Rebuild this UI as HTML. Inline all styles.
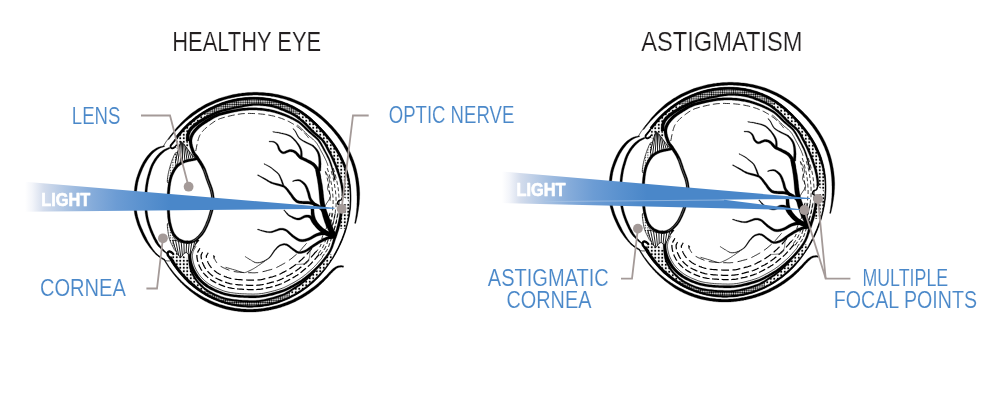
<!DOCTYPE html>
<html lang="en">
<head>
<meta charset="utf-8">
<title>Healthy Eye vs Astigmatism</title>
<style>
html,body{margin:0;padding:0;background:#fff;}
body{width:990px;height:400px;overflow:hidden;font-family:"Liberation Sans",sans-serif;}
svg{display:block;will-change:transform;}
</style>
</head>
<body>
<svg width="990" height="400" viewBox="0 0 990 400" font-family="'Liberation Sans', sans-serif">
<defs>
<pattern id="dots" width="3.5" height="3.5" patternUnits="userSpaceOnUse">
<rect width="3.5" height="3.5" fill="#fff"/>
<circle cx="1.75" cy="1.75" r="1.05" fill="#000"/>
</pattern>
<pattern id="ticks" width="2.2" height="2.2" patternUnits="userSpaceOnUse">
<rect width="2.2" height="2.2" fill="#fff"/>
<circle cx="1.1" cy="1.1" r="0.86" fill="#000"/>
</pattern>
<pattern id="dots2" width="2.6" height="2.6" patternUnits="userSpaceOnUse">
<rect width="2.6" height="2.6" fill="#fff"/>
<circle cx="1.3" cy="1.3" r="0.6" fill="#000"/>
</pattern>
<linearGradient id="g1" gradientUnits="userSpaceOnUse" x1="25" y1="0" x2="170" y2="0">
<stop offset="0" stop-color="#fff"/><stop offset="0.05" stop-color="#f3f5fa"/><stop offset="0.13" stop-color="#d3dcec"/><stop offset="0.3" stop-color="#a9c2e2"/><stop offset="0.46" stop-color="#86acda"/><stop offset="0.63" stop-color="#6c9cd4"/><stop offset="0.8" stop-color="#5b92cf"/><stop offset="1" stop-color="#4a87c9"/>
</linearGradient>
<linearGradient id="g2" gradientUnits="userSpaceOnUse" x1="502" y1="0" x2="647" y2="0">
<stop offset="0" stop-color="#fff"/><stop offset="0.05" stop-color="#f3f5fa"/><stop offset="0.13" stop-color="#d3dcec"/><stop offset="0.3" stop-color="#a9c2e2"/><stop offset="0.46" stop-color="#86acda"/><stop offset="0.63" stop-color="#6c9cd4"/><stop offset="0.8" stop-color="#5b92cf"/><stop offset="1" stop-color="#4a87c9"/>
</linearGradient>
<g id="eye">
<path d="M168.7 139.7L169.8 138.3L170.9 136.8L172.0 135.4L173.2 134.1L174.3 132.7L175.5 131.3L176.8 130.0L178.0 128.7L179.2 127.4L180.5 126.2L181.8 124.9L183.1 123.7L184.5 122.5L185.8 121.3L187.2 120.2L188.6 119.0L190.0 117.9L191.5 116.9L192.9 115.8L194.4 114.7L195.9 113.7L197.3 112.7L198.8 111.7L200.4 110.7L201.9 109.8L203.4 108.8L205.0 108.0L206.6 107.1L208.2 106.3L209.8 105.5L211.5 104.7L213.1 104.0L214.8 103.2L216.4 102.6L218.1 101.9L219.8 101.3L221.5 100.7L223.3 100.1L225.0 99.6L226.7 99.1L228.5 98.6L230.2 98.2L232.0 97.7L233.8 97.4L235.6 97.0L237.3 96.7L239.1 96.4L240.9 96.1L242.7 95.9L244.5 95.7L246.4 95.5L248.2 95.4L250.0 95.3L251.8 95.2L253.6 95.1L255.5 95.1L257.3 95.1L259.1 95.2L260.9 95.3L262.7 95.4L264.6 95.5L266.4 95.7L268.2 95.9L270.0 96.1L271.8 96.4L273.6 96.6L275.4 97.0L277.2 97.3L279.0 97.7L280.8 98.2L282.5 98.6L284.3 99.1L286.1 99.6L287.8 100.2L289.5 100.8L291.3 101.4L293.0 102.1L294.7 102.7L296.3 103.5L298.0 104.2L299.6 105.0L301.3 105.8L302.9 106.7L304.5 107.6L306.1 108.5L307.7 109.4L309.2 110.4L310.7 111.4L312.2 112.4L313.7 113.5L315.2 114.6L316.7 115.7L318.1 116.8L319.5 117.9L320.9 119.1L322.3 120.3L323.6 121.6L324.9 122.8L326.3 124.1L327.5 125.3L328.8 126.7L330.1 128.0L331.3 129.3L332.5 130.7L333.7 132.1L334.8 133.5L336.0 134.9L337.1 136.3L338.1 137.8L339.2 139.3L340.2 140.7L341.2 142.3L342.2 143.8L343.2 145.3L344.1 146.9L345.0 148.5L345.8 150.0L346.7 151.7L347.5 153.3L348.2 154.9L349.0 156.6L349.7 158.2L350.3 159.9L351.0 161.6L351.6 163.3L352.1 165.0L352.7 166.7L353.2 168.4L353.6 170.2L354.1 171.9L354.5 173.7L354.9 175.4L355.2 177.2L355.5 178.9L355.8 180.7L356.0 182.5L356.2 184.3L356.4 186.0L356.6 187.8L356.7 189.6L356.8 191.4L356.9 193.2L356.9 194.9L357.0 196.7L357.0 198.5L357.0 200.3L357.0 202.0L356.9 203.8L356.9 205.6L356.8 207.4L356.6 209.1L356.5 210.9L356.3 212.7L356.1 214.4L355.8 216.2L355.6 217.9L355.3 219.7L355.0 221.4L354.6 223.2L355.6 223.4L356.1 221.7L356.5 219.9L356.9 218.2L357.3 216.4L357.6 214.7L357.9 212.9L358.2 211.1L358.5 209.3L358.7 207.6L359.0 205.8L359.2 204.0L359.3 202.2L359.4 200.3L359.6 198.5L359.6 196.7L359.7 194.9L359.7 193.1L359.6 191.2L359.5 189.4L359.4 187.6L359.2 185.8L359.0 183.9L358.8 182.1L358.5 180.3L358.3 178.5L357.9 176.7L357.6 174.9L357.2 173.1L356.8 171.3L356.4 169.5L355.9 167.7L355.4 165.9L354.8 164.1L354.2 162.4L353.6 160.6L352.9 158.9L352.3 157.2L351.5 155.4L350.8 153.8L350.0 152.1L349.2 150.4L348.3 148.7L347.4 147.1L346.5 145.5L345.6 143.9L344.6 142.3L343.6 140.7L342.6 139.2L341.5 137.6L340.4 136.1L339.3 134.6L338.2 133.2L337.0 131.7L335.8 130.3L334.6 128.9L333.4 127.5L332.1 126.1L330.8 124.7L329.5 123.4L328.2 122.1L326.9 120.8L325.5 119.5L324.1 118.2L322.7 117.0L321.3 115.8L319.8 114.6L318.4 113.4L316.9 112.3L315.4 111.2L313.8 110.1L312.3 109.1L310.7 108.0L309.1 107.0L307.5 106.1L305.9 105.1L304.2 104.2L302.6 103.3L300.9 102.5L299.2 101.7L297.5 100.9L295.7 100.2L294.0 99.4L292.2 98.8L290.5 98.1L288.7 97.5L286.9 96.9L285.1 96.4L283.3 95.9L281.5 95.4L279.6 95.0L277.8 94.6L275.9 94.2L274.1 93.9L272.2 93.6L270.4 93.3L268.5 93.1L266.7 92.9L264.8 92.7L262.9 92.6L261.1 92.5L259.2 92.4L257.3 92.3L255.4 92.3L253.6 92.3L251.7 92.4L249.8 92.5L248.0 92.6L246.1 92.7L244.3 92.9L242.4 93.1L240.6 93.4L238.7 93.6L236.9 93.9L235.0 94.3L233.2 94.6L231.4 95.0L229.6 95.4L227.8 95.9L226.0 96.4L224.2 96.9L222.4 97.4L220.6 98.0L218.9 98.6L217.1 99.3L215.4 100.0L213.7 100.7L212.0 101.4L210.3 102.2L208.6 103.0L206.9 103.8L205.3 104.6L203.7 105.5L202.0 106.4L200.5 107.4L198.9 108.3L197.3 109.3L195.8 110.4L194.2 111.4L192.7 112.5L191.3 113.6L189.8 114.8L188.4 115.9L187.1 117.2L185.7 118.4L184.3 119.7L183.0 120.9L181.7 122.2L180.5 123.6L179.2 124.9L178.0 126.3L176.8 127.6L175.6 129.0L174.5 130.5L173.4 131.9L172.3 133.3L171.2 134.8L170.2 136.3L169.2 137.8L168.2 139.3Z" fill="#000" stroke="#000" stroke-width="0.3" stroke-linejoin="round"/>
<path d="M343.6 265.9L343.1 265.8L342.6 265.8L342.1 265.7L341.6 265.6L341.0 265.6L340.4 265.6L339.9 265.7L339.2 265.7L338.6 265.8L338.0 266.0L337.3 266.1L336.6 266.4L336.0 266.7L335.4 267.0L334.7 267.4L334.1 267.9L333.5 268.3L332.8 268.8L332.2 269.4L331.5 270.1L330.8 270.7L330.2 271.4L329.5 272.1L328.8 272.8L328.0 273.7L327.2 274.6L326.4 275.4L325.5 276.3L324.7 277.1L323.8 278.0L323.0 278.8L322.1 279.7L321.2 280.5L320.3 281.3L319.4 282.1L318.5 282.9L317.6 283.7L316.7 284.4L315.8 285.2L314.8 285.9L313.9 286.7L312.9 287.4L311.9 288.1L311.0 288.8L310.0 289.5L309.0 290.2L308.0 290.9L307.0 291.6L306.0 292.3L305.0 292.9L303.9 293.6L302.9 294.2L301.9 294.8L300.8 295.4L299.8 296.0L298.7 296.6L297.6 297.2L296.5 297.8L295.5 298.3L294.4 298.8L293.3 299.4L292.2 299.9L291.0 300.4L289.9 300.9L288.8 301.3L287.7 301.8L286.5 302.3L285.4 302.7L284.2 303.1L283.1 303.5L281.9 303.9L280.8 304.3L279.6 304.7L278.4 305.0L277.2 305.4L276.1 305.7L274.9 306.0L273.7 306.3L272.5 306.6L271.3 306.9L270.1 307.1L268.9 307.4L267.6 307.6L266.4 307.8L265.2 308.0L264.0 308.2L262.8 308.4L261.5 308.5L260.3 308.7L259.1 308.8L257.8 308.9L256.6 309.0L255.4 309.1L254.1 309.1L252.9 309.2L251.6 309.2L250.4 309.2L249.2 309.2L247.9 309.2L246.7 309.2L245.4 309.1L244.2 309.1L243.0 309.0L241.7 308.9L240.5 308.8L239.2 308.6L238.0 308.5L236.8 308.3L235.5 308.2L234.3 308.0L233.1 307.8L231.9 307.5L230.6 307.3L229.4 307.0L228.2 306.8L227.0 306.5L225.8 306.2L224.6 305.8L223.4 305.5L222.2 305.1L221.0 304.8L219.8 304.4L218.7 304.0L217.5 303.6L216.3 303.1L215.2 302.7L214.0 302.2L212.9 301.7L211.7 301.2L210.6 300.7L209.5 300.2L208.3 299.6L207.2 299.1L206.1 298.5L205.0 298.0L203.9 297.4L202.8 296.8L201.7 296.2L200.6 295.6L199.6 294.9L198.5 294.3L197.5 293.6L196.4 293.0L195.4 292.3L194.4 291.6L193.3 290.9L192.3 290.1L191.3 289.4L190.3 288.6L189.4 287.9L188.4 287.1L187.4 286.3L186.5 285.5L185.5 284.7L184.6 283.9L183.7 283.1L182.8 282.2L181.9 281.4L181.0 280.5L180.1 279.6L179.3 278.7L178.4 277.8L177.6 276.9L176.8 276.0L175.9 275.1L175.1 274.1L174.3 273.2L173.6 272.2L172.8 271.3L172.0 270.3L171.3 269.3L170.6 268.3L169.8 267.4L169.1 266.4L168.4 265.3L167.7 264.3L167.1 263.3L166.4 262.3L165.8 261.2L165.1 260.2L164.5 259.1L163.8 259.5L164.4 260.6L165.0 261.7L165.6 262.7L166.3 263.8L166.9 264.8L167.6 265.9L168.3 266.9L169.0 268.0L169.7 269.0L170.4 270.0L171.1 271.0L171.9 272.0L172.6 273.0L173.4 274.0L174.2 275.0L175.0 275.9L175.8 276.9L176.6 277.8L177.4 278.8L178.2 279.7L179.1 280.6L179.9 281.5L180.8 282.4L181.7 283.3L182.6 284.2L183.5 285.1L184.4 286.0L185.3 286.8L186.3 287.7L187.2 288.5L188.2 289.3L189.1 290.2L190.1 291.0L191.1 291.8L192.1 292.6L193.1 293.3L194.1 294.1L195.1 294.8L196.2 295.6L197.2 296.3L198.3 297.0L199.3 297.7L200.4 298.4L201.5 299.0L202.6 299.7L203.7 300.3L204.8 301.0L206.0 301.6L207.1 302.1L208.2 302.7L209.4 303.3L210.6 303.8L211.8 304.3L212.9 304.8L214.1 305.3L215.3 305.7L216.5 306.2L217.7 306.6L218.9 307.0L220.2 307.4L221.4 307.8L222.6 308.2L223.8 308.5L225.1 308.9L226.3 309.2L227.6 309.5L228.8 309.8L230.1 310.0L231.3 310.3L232.6 310.5L233.9 310.7L235.1 310.9L236.4 311.1L237.7 311.3L238.9 311.4L240.2 311.6L241.5 311.7L242.8 311.8L244.0 311.9L245.3 311.9L246.6 312.0L247.9 312.0L249.1 312.0L250.4 312.0L251.7 312.0L253.0 312.0L254.3 311.9L255.5 311.9L256.8 311.8L258.1 311.7L259.3 311.6L260.6 311.4L261.9 311.3L263.1 311.1L264.4 311.0L265.6 310.8L266.9 310.6L268.1 310.4L269.4 310.1L270.6 309.9L271.9 309.6L273.1 309.3L274.3 309.0L275.6 308.7L276.8 308.4L278.0 308.1L279.2 307.7L280.4 307.4L281.6 307.0L282.8 306.6L284.0 306.2L285.2 305.8L286.4 305.3L287.6 304.9L288.7 304.4L289.9 303.9L291.0 303.4L292.2 302.9L293.3 302.4L294.5 301.9L295.6 301.4L296.7 300.8L297.8 300.2L298.9 299.7L300.0 299.1L301.1 298.5L302.2 297.9L303.3 297.2L304.4 296.6L305.4 295.9L306.5 295.3L307.5 294.6L308.5 293.9L309.6 293.2L310.6 292.5L311.6 291.8L312.6 291.1L313.6 290.3L314.6 289.5L315.5 288.8L316.5 288.0L317.4 287.2L318.4 286.4L319.3 285.6L320.2 284.8L321.1 283.9L322.0 283.1L322.9 282.2L323.8 281.4L324.6 280.5L325.5 279.6L326.3 278.7L327.2 277.9L328.0 276.9L328.8 276.0L329.6 275.1L330.4 274.2L331.0 273.6L331.7 272.9L332.3 272.2L333.0 271.5L333.6 270.9L334.2 270.4L334.7 269.9L335.3 269.4L335.8 269.0L336.3 268.6L336.9 268.3L337.4 268.0L337.9 267.8L338.4 267.6L338.9 267.5L339.5 267.3L340.0 267.3L340.6 267.2L341.0 267.1L341.5 267.1L342.0 267.2L342.4 267.2L342.9 267.3L343.4 267.3Z" fill="#000" stroke="#000" stroke-width="0.3" stroke-linejoin="round"/>
<path d="M171.5 134.5L170.7 135.5L170.0 136.5L169.2 137.5L168.4 138.5L167.7 139.5L167.0 140.5L166.3 141.4L165.7 142.4L165.1 143.3L164.6 144.2L164.0 145.1L163.4 146.0" fill="none" stroke="#000" stroke-width="0.7" stroke-linejoin="round" />
<path d="M156.0 253.5L156.6 254.2L157.3 254.9L157.9 255.6L158.6 256.2L159.2 256.9L160.0 257.5L160.8 258.1L161.8 258.7L162.7 259.2L163.7 259.7L164.6 260.2L165.5 260.5L166.3 260.7L167.1 260.9L167.8 260.9L168.5 260.9L169.3 260.9L170.0 261.0" fill="none" stroke="#000" stroke-width="0.7" stroke-linejoin="round" />
<path d="M177.2 139.0L178.3 137.4L179.5 135.9L180.7 134.5L182.0 133.0L183.2 131.6L184.5 130.1L185.9 128.8L187.2 127.4L188.6 126.0L190.0 124.7L191.5 123.4L192.9 122.2L194.4 120.9L195.9 119.7L197.5 118.6L199.0 117.4L200.6 116.3L202.2 115.2L203.8 114.1L205.5 113.1L207.2 112.1L208.9 111.2L210.6 110.2L212.3 109.4L214.1 108.5L215.9 107.7L217.6 106.9L219.5 106.2L221.3 105.5L223.1 104.8L225.0 104.2L226.9 103.6L228.7 103.1L230.6 102.6L232.5 102.1L234.5 101.7L236.4 101.3L238.3 100.9L240.3 100.6L242.2 100.3L244.2 100.1L246.1 99.9L248.1 99.8L250.0 99.7L252.0 99.6L254.0 99.6L256.0 99.6L257.9 99.7L259.9 99.8L261.8 99.9L263.8 100.1L265.8 100.3L267.7 100.6L269.7 100.9L271.6 101.3L273.5 101.7L275.4 102.1L277.3 102.6L279.2 103.2L281.1 103.7L282.9 104.4L284.8 105.0L286.6 105.8L288.4 106.5L290.2 107.3L291.9 108.2L293.7 109.1L295.4 110.0L297.0 111.0L298.7 112.0L300.3 113.1L301.9 114.2L303.5 115.3L305.0 116.4L306.6 117.6L308.1 118.9L309.5 120.1L311.0 121.4L312.4 122.7L313.8 124.0L315.2 125.3L316.5 126.6L317.9 128.0L319.2 129.4L320.5 130.8L321.8 132.2L323.0 133.6L324.3 135.0L325.5 136.4L326.7 137.9L327.9 139.3L329.0 140.8L330.2 142.3L331.3 143.8L332.4 145.4L333.4 146.9L334.4 148.5L335.4 150.1L336.4 151.7L337.3 153.3L338.2 154.9L339.1 156.6L339.9 158.2L340.7 159.9L341.5 161.6L342.3 163.4L343.0 165.1L343.6 166.8L344.3 168.6L344.9 170.3L345.5 172.1L346.1 173.9L346.7 175.7L347.2 177.5L347.6 179.3L348.1 181.1L348.5 182.9L348.8 184.8L349.1 186.6L349.4 188.5L349.6 190.3L349.8 192.2L349.9 194.0L350.0 195.9L350.0 197.8L350.0 199.6L349.9 201.5L349.9 203.4L349.7 205.2L349.6 207.1L349.4 208.9L349.2 210.8L348.9 212.6L348.6 214.5L348.3 216.3L348.0 218.1L347.6 219.9L347.2 221.8L346.7 223.6L346.3 225.4L345.8 227.1L345.3 228.9L344.7 230.7L344.2 232.5L343.6 234.2L342.9 236.0L342.3 237.7L341.6 239.4L340.9 241.1L340.1 242.8L339.4 244.5L338.6 246.2L337.8 247.9L336.9 249.6L336.0 251.2L335.2 252.8L334.2 254.5L333.3 256.1L332.3 257.7L331.3 259.3L330.3 260.8L329.2 262.4L328.1 263.9L326.9 265.4L325.8 266.9L324.6 268.4L323.4 269.8L322.1 271.3L320.8 272.7L319.5 274.1L318.2 275.4L316.9 276.8L315.5 278.1L314.1 279.4L312.7 280.7L311.2 282.0L309.8 283.3L308.3 284.5L306.8 285.7L305.2 286.9L303.7 288.0L302.1 289.1L300.4 290.2L298.8 291.3L297.1 292.3L295.5 293.3L293.7 294.2L292.0 295.2L290.3 296.1L288.5 296.9L286.7 297.7L284.9 298.5L283.0 299.3L281.2 300.0L279.3 300.6L277.4 301.2L275.5 301.8L273.6 302.4L271.7 302.9L269.7 303.3L267.8 303.7L265.8 304.1L263.9 304.4L261.9 304.7L259.9 305.0L257.9 305.1L255.9 305.3L253.9 305.4L251.9 305.4L249.9 305.4L247.9 305.4L245.9 305.3L243.9 305.2L241.8 305.0L239.8 304.8L237.9 304.5L235.9 304.2L233.9 303.8L231.9 303.4L230.0 303.0L228.0 302.5L226.1 301.9L224.2 301.3L222.3 300.6L220.4 300.0L218.5 299.2L216.7 298.4L214.8 297.6L213.0 296.8L211.3 295.9L209.5 294.9L207.8 293.9L206.0 292.9L204.3 291.9L202.7 290.8L201.0 289.7L199.4 288.5L197.8 287.3L196.3 286.1L194.8 284.9L193.3 283.6L191.8 282.3L190.3 280.9L188.9 279.6L187.5 278.2L186.2 276.8L184.8 275.3L183.5 273.9L182.3 272.4L181.0 270.9L179.8 269.4L178.7 267.8L177.5 266.2L176.4 264.7L175.3 263.1L174.3 261.4L173.3 259.8L172.3 258.1L171.3 256.5L168.9 257.8L169.9 259.5L170.9 261.2L171.9 262.9L173.0 264.6L174.1 266.2L175.3 267.8L176.5 269.4L177.7 271.0L178.9 272.6L180.2 274.1L181.5 275.6L182.9 277.1L184.2 278.6L185.6 280.1L187.1 281.5L188.5 282.9L190.0 284.2L191.6 285.5L193.1 286.8L194.7 288.1L196.4 289.3L198.0 290.5L199.7 291.6L201.4 292.8L203.1 293.8L204.9 294.9L206.7 295.9L208.5 296.9L210.3 297.8L212.1 298.7L214.0 299.5L215.9 300.3L217.8 301.1L219.7 301.8L221.6 302.5L223.6 303.1L225.6 303.7L227.6 304.2L229.5 304.7L231.5 305.2L233.5 305.6L235.6 306.0L237.6 306.3L239.6 306.5L241.7 306.8L243.7 307.0L245.8 307.1L247.8 307.2L249.9 307.2L251.9 307.2L254.0 307.1L256.0 307.0L258.0 306.9L260.1 306.7L262.1 306.4L264.1 306.1L266.1 305.8L268.1 305.4L270.1 305.0L272.1 304.5L274.1 304.0L276.0 303.5L278.0 302.9L279.9 302.2L281.8 301.5L283.7 300.8L285.5 300.1L287.4 299.3L289.2 298.4L291.0 297.6L292.8 296.6L294.5 295.7L296.3 294.7L298.0 293.7L299.7 292.7L301.4 291.6L303.0 290.5L304.6 289.3L306.2 288.2L307.8 287.0L309.3 285.8L310.8 284.5L312.3 283.2L313.8 281.9L315.2 280.6L316.6 279.3L317.9 277.9L319.3 276.4L320.6 275.0L321.8 273.6L323.1 272.1L324.3 270.6L325.5 269.1L326.6 267.6L327.7 266.0L328.8 264.5L329.9 262.9L331.0 261.3L332.0 259.8L333.1 258.2L334.1 256.6L335.0 254.9L336.0 253.3L336.9 251.6L337.7 250.0L338.6 248.3L339.4 246.6L340.2 244.9L341.0 243.2L341.7 241.5L342.5 239.8L343.1 238.0L343.8 236.3L344.4 234.5L345.1 232.8L345.6 231.0L346.2 229.2L346.7 227.4L347.2 225.6L347.7 223.8L348.1 222.0L348.5 220.2L348.9 218.3L349.3 216.5L349.6 214.6L349.9 212.8L350.1 210.9L350.4 209.1L350.6 207.2L350.7 205.3L350.8 203.4L350.9 201.5L351.0 199.7L351.0 197.8L351.0 195.9L350.9 194.0L350.8 192.1L350.7 190.2L350.6 188.3L350.4 186.4L350.2 184.5L349.9 182.7L349.6 180.8L349.3 178.9L348.9 177.0L348.5 175.2L348.0 173.3L347.5 171.5L347.0 169.7L346.4 167.8L345.8 166.0L345.1 164.2L344.4 162.5L343.6 160.7L342.8 159.0L342.0 157.2L341.2 155.5L340.3 153.8L339.3 152.1L338.4 150.5L337.4 148.8L336.4 147.2L335.3 145.6L334.3 144.0L333.1 142.5L332.0 140.9L330.9 139.4L329.7 137.9L328.5 136.4L327.3 134.9L326.0 133.5L324.8 132.0L323.5 130.6L322.2 129.2L320.9 127.8L319.5 126.4L318.2 125.0L316.8 123.6L315.4 122.3L314.0 121.0L312.5 119.6L311.1 118.3L309.6 117.1L308.0 115.8L306.5 114.6L304.9 113.4L303.3 112.2L301.6 111.1L299.9 110.0L298.2 109.0L296.5 108.0L294.8 107.0L293.0 106.1L291.2 105.2L289.3 104.4L287.5 103.6L285.6 102.9L283.7 102.2L281.8 101.5L279.9 100.9L277.9 100.4L276.0 99.8L274.0 99.4L272.0 99.0L270.1 98.6L268.1 98.3L266.1 98.0L264.1 97.8L262.0 97.6L260.0 97.4L258.0 97.3L256.0 97.3L254.0 97.2L252.0 97.3L249.9 97.3L247.9 97.4L245.9 97.6L243.9 97.8L241.9 98.0L239.9 98.3L237.9 98.6L235.9 98.9L234.0 99.3L232.0 99.8L230.0 100.3L228.1 100.8L226.2 101.3L224.3 101.9L222.3 102.6L220.5 103.3L218.6 104.0L216.7 104.7L214.9 105.5L213.1 106.4L211.3 107.2L209.5 108.1L207.7 109.1L206.0 110.1L204.3 111.1L202.6 112.1L200.9 113.2L199.2 114.3L197.6 115.5L196.0 116.6L194.4 117.9L192.9 119.1L191.4 120.4L189.9 121.6L188.4 123.0L187.0 124.3L185.5 125.7L184.2 127.1L182.8 128.5L181.5 130.0L180.2 131.4L178.9 132.9L177.6 134.4L176.4 136.0L175.2 137.5Z" fill="#000" stroke="#000" stroke-width="0.3" stroke-linejoin="round"/>
<path d="M176.4 138.4L175.9 139.0L175.4 139.6L174.9 140.2L174.5 140.8L174.0 141.4L173.5 142.0L173.0 142.7L172.4 143.4L171.8 144.1L171.2 144.8L170.8 145.4L170.6 146.0L170.6 146.5L170.7 147.0L170.9 147.5L171.2 147.9L171.6 148.2L172.0 148.3L172.5 148.3L173.0 148.1L173.7 147.8L174.3 147.4L175.0 146.9L175.5 146.5L176.0 146.0L176.4 145.5L176.8 144.9L177.2 144.2L177.6 143.6L178.0 143.0" fill="none" stroke="#000" stroke-width="1.9" stroke-linejoin="round" stroke-linecap="round"/>
<path d="M169.6 257.5L169.2 257.0L168.8 256.5L168.4 256.0L168.0 255.5L167.8 255.0L167.6 254.5L167.6 254.0L167.6 253.4L167.8 252.8L168.0 252.3L168.3 251.9L168.6 251.6L169.0 251.5L169.5 251.5L170.0 251.6L170.5 251.8L171.1 252.1L171.6 252.4L172.1 252.8L172.6 253.3L173.1 253.8L173.5 254.4L174.0 255.0L174.5 255.5" fill="none" stroke="#000" stroke-width="2.3" stroke-linejoin="round" stroke-linecap="round"/>
<path d="M176.2 138.2L177.1 137.0L178.1 135.8L179.1 134.6L180.1 133.4L181.1 132.2L182.1 131.0L183.2 129.9L184.2 128.7L185.3 127.6L186.4 126.5L187.6 125.4L188.7 124.3L189.9 123.3L191.0 122.2L192.2 121.2L193.4 120.2L194.7 119.2L195.9 118.2L197.2 117.3L198.4 116.4L199.7 115.4L201.0 114.5L202.3 113.7L203.7 112.8L205.0 112.0L206.4 111.2L207.8 110.4L209.2 109.7L210.6 108.9L212.0 108.2L213.4 107.5L214.9 106.8L216.3 106.2L217.8 105.6L219.3 105.0L220.7 104.4L222.2 103.9L223.7 103.4L225.3 102.9L226.8 102.4L228.3 101.9L229.9 101.5L231.4 101.1L233.0 100.8L234.5 100.4L236.1 100.1L237.7 99.8L239.3 99.6L240.8 99.3L242.4 99.1L244.0 98.9L245.6 98.8L247.2 98.7L248.8 98.6L250.4 98.5L252.0 98.4L253.6 98.4L255.2 98.4L256.8 98.5L258.4 98.5L260.0 98.6L261.6 98.7L263.2 98.9L264.8 99.0L266.4 99.2L268.0 99.5L269.6 99.7L271.1 100.0L272.7 100.3L274.3 100.6L275.8 101.0L277.4 101.4L278.9 101.8L280.4 102.3L282.0 102.8L283.5 103.3L285.0 103.9L286.5 104.4L287.9 105.0L289.4 105.7L290.8 106.4L292.3 107.0L293.7 107.8L295.1 108.5L296.5 109.3L297.8 110.1L299.2 110.9L300.5 111.8L301.8 112.7L303.1 113.6L304.4 114.5L305.7 115.4L306.9 116.4L308.1 117.4L309.3 118.4L310.5 119.4L311.7 120.4L312.8 121.5L314.0 122.5L315.1 123.6L316.2 124.7L317.3 125.8L318.4 126.9L319.5 128.0L320.5 129.1L321.6 130.2L322.6 131.4L323.6 132.5L324.6 133.7L325.6 134.8L326.6 136.0L327.6 137.2L328.6 138.4L329.5 139.5L330.4 140.8L331.3 142.0L332.2 143.2L333.1 144.4L334.0 145.7L334.8 147.0L335.7 148.2L336.5 149.5L337.3 150.8L338.0 152.1L338.8 153.5L339.5 154.8L340.2 156.2L340.9 157.5L341.5 158.9L342.2 160.3L342.8 161.7L343.4 163.1L343.9 164.5L344.5 165.9L345.0 167.3L345.5 168.7L346.0 170.2L346.5 171.6L346.9 173.1L347.3 174.5L347.7 176.0L348.1 177.5L348.4 179.0L348.7 180.4L349.0 181.9L349.3 183.4L349.5 184.9L349.7 186.4L349.9 187.9L350.1 189.4L350.2 190.9L350.3 192.4L350.4 193.9L350.5 195.5L350.5 197.0L350.5 198.5L350.5 200.0L350.4 201.5L350.4 203.0L342.8 196.0L342.8 195.4L342.8 194.9L342.8 194.4L342.8 193.9L342.8 193.4L342.8 192.8L342.8 192.3L342.8 191.6L342.7 191.0L342.6 190.2L342.5 189.4L342.3 188.5L342.2 187.5L342.0 186.5L341.8 185.4L341.6 184.3L341.4 183.3L341.1 182.2L340.9 181.1L340.6 180.0L340.3 178.9L340.0 177.8L339.6 176.7L339.3 175.5L338.9 174.4L338.5 173.3L338.1 172.2L337.7 171.1L337.4 170.0L337.0 169.0L336.7 168.0L336.3 167.1L336.0 166.3L335.7 165.4L335.3 164.6L335.0 163.8L334.7 162.9L334.3 162.1L333.9 161.2L333.5 160.3L333.1 159.3L332.6 158.4L332.1 157.4L331.7 156.4L331.2 155.3L330.7 154.3L330.1 153.3L329.6 152.2L329.1 151.2L328.5 150.2L327.9 149.2L327.4 148.1L326.8 147.1L326.3 146.1L325.7 145.0L325.1 144.0L324.5 143.0L323.8 142.0L323.1 141.0L322.4 140.1L321.6 139.2L320.8 138.4L319.9 137.6L319.0 136.8L318.0 136.0L317.1 135.2L316.1 134.5L315.2 133.7L314.2 132.9L313.3 132.0L312.4 131.1L311.5 130.2L310.5 129.2L309.6 128.2L308.7 127.2L307.8 126.2L306.8 125.2L305.9 124.3L305.0 123.4L304.0 122.5L303.1 121.7L302.1 120.8L301.2 120.0L300.2 119.3L299.3 118.5L298.3 117.8L297.3 117.1L296.3 116.4L295.3 115.7L294.2 115.0L293.1 114.3L291.9 113.7L290.7 113.1L289.5 112.5L288.2 111.9L287.0 111.3L285.7 110.8L284.5 110.3L283.2 109.8L282.0 109.3L280.8 108.8L279.6 108.4L278.5 108.0L277.3 107.6L276.2 107.2L275.0 106.8L273.8 106.5L272.6 106.1L271.3 105.9L270.0 105.6L268.6 105.4L267.2 105.2L265.7 105.0L264.2 104.8L262.7 104.7L261.1 104.6L259.6 104.5L258.0 104.5L256.5 104.5L255.0 104.5L253.5 104.6L252.1 104.7L250.6 104.9L249.2 105.0L247.7 105.3L246.3 105.5L244.8 105.8L243.2 106.1L241.6 106.4L240.0 106.7L238.3 107.0L236.4 107.4L234.4 107.8L232.5 108.3L230.4 108.7L228.5 109.2L226.6 109.7L224.7 110.1L223.0 110.6L221.5 111.0L220.1 111.4L218.9 111.8L217.8 112.2L216.8 112.6L215.9 113.0L215.0 113.4L214.1 113.9L213.2 114.3L212.3 114.7L211.3 115.2L210.3 115.7L209.3 116.2L208.3 116.7L207.3 117.2L206.3 117.7L205.4 118.2L204.4 118.8L203.4 119.3L202.5 119.9L201.5 120.5L200.5 121.1L199.5 121.8L198.5 122.5L197.5 123.2L196.5 123.9L195.5 124.7L194.6 125.4L193.7 126.1L192.9 126.8L192.2 127.5L191.6 128.2L191.0 128.8L190.5 129.5L190.1 130.1L189.7 130.8L189.3 131.4L189.0 132.0L188.7 132.7L188.4 133.3L188.2 134.0L188.0 134.7L187.9 135.4L187.8 136.1L187.7 136.8L187.7 137.5L187.7 138.2L187.7 138.9L187.7 139.6L187.6 140.3L187.6 141.0L190.0 147.0L182.0 150.0L176.0 148.0Z" fill="url(#dots)"/>
<clipPath id="cb1"><path d="M176.2 138.2L177.1 137.0L178.1 135.8L179.1 134.6L180.1 133.4L181.1 132.2L182.1 131.0L183.2 129.9L184.2 128.7L185.3 127.6L186.4 126.5L187.6 125.4L188.7 124.3L189.9 123.3L191.0 122.2L192.2 121.2L193.4 120.2L194.7 119.2L195.9 118.2L197.2 117.3L198.4 116.4L199.7 115.4L201.0 114.5L202.3 113.7L203.7 112.8L205.0 112.0L206.4 111.2L207.8 110.4L209.2 109.7L210.6 108.9L212.0 108.2L213.4 107.5L214.9 106.8L216.3 106.2L217.8 105.6L219.3 105.0L220.7 104.4L222.2 103.9L223.7 103.4L225.3 102.9L226.8 102.4L228.3 101.9L229.9 101.5L231.4 101.1L233.0 100.8L234.5 100.4L236.1 100.1L237.7 99.8L239.3 99.6L240.8 99.3L242.4 99.1L244.0 98.9L245.6 98.8L247.2 98.7L248.8 98.6L250.4 98.5L252.0 98.4L253.6 98.4L255.2 98.4L256.8 98.5L258.4 98.5L260.0 98.6L261.6 98.7L263.2 98.9L264.8 99.0L266.4 99.2L268.0 99.5L269.6 99.7L271.1 100.0L272.7 100.3L274.3 100.6L275.8 101.0L277.4 101.4L278.9 101.8L280.4 102.3L282.0 102.8L283.5 103.3L285.0 103.9L286.5 104.4L287.9 105.0L289.4 105.7L290.8 106.4L292.3 107.0L293.7 107.8L295.1 108.5L296.5 109.3L297.8 110.1L299.2 110.9L300.5 111.8L301.8 112.7L303.1 113.6L304.4 114.5L305.7 115.4L306.9 116.4L308.1 117.4L309.3 118.4L310.5 119.4L311.7 120.4L312.8 121.5L314.0 122.5L315.1 123.6L316.2 124.7L317.3 125.8L318.4 126.9L319.5 128.0L320.5 129.1L321.6 130.2L322.6 131.4L323.6 132.5L324.6 133.7L325.6 134.8L326.6 136.0L327.6 137.2L328.6 138.4L329.5 139.5L330.4 140.8L331.3 142.0L332.2 143.2L333.1 144.4L334.0 145.7L334.8 147.0L335.7 148.2L336.5 149.5L337.3 150.8L338.0 152.1L338.8 153.5L339.5 154.8L340.2 156.2L340.9 157.5L341.5 158.9L342.2 160.3L342.8 161.7L343.4 163.1L343.9 164.5L344.5 165.9L345.0 167.3L345.5 168.7L346.0 170.2L346.5 171.6L346.9 173.1L347.3 174.5L347.7 176.0L348.1 177.5L348.4 179.0L348.7 180.4L349.0 181.9L349.3 183.4L349.5 184.9L349.7 186.4L349.9 187.9L350.1 189.4L350.2 190.9L350.3 192.4L350.4 193.9L350.5 195.5L350.5 197.0L350.5 198.5L350.5 200.0L350.4 201.5L350.4 203.0L342.8 196.0L342.8 195.4L342.8 194.9L342.8 194.4L342.8 193.9L342.8 193.4L342.8 192.8L342.8 192.3L342.8 191.6L342.7 191.0L342.6 190.2L342.5 189.4L342.3 188.5L342.2 187.5L342.0 186.5L341.8 185.4L341.6 184.3L341.4 183.3L341.1 182.2L340.9 181.1L340.6 180.0L340.3 178.9L340.0 177.8L339.6 176.7L339.3 175.5L338.9 174.4L338.5 173.3L338.1 172.2L337.7 171.1L337.4 170.0L337.0 169.0L336.7 168.0L336.3 167.1L336.0 166.3L335.7 165.4L335.3 164.6L335.0 163.8L334.7 162.9L334.3 162.1L333.9 161.2L333.5 160.3L333.1 159.3L332.6 158.4L332.1 157.4L331.7 156.4L331.2 155.3L330.7 154.3L330.1 153.3L329.6 152.2L329.1 151.2L328.5 150.2L327.9 149.2L327.4 148.1L326.8 147.1L326.3 146.1L325.7 145.0L325.1 144.0L324.5 143.0L323.8 142.0L323.1 141.0L322.4 140.1L321.6 139.2L320.8 138.4L319.9 137.6L319.0 136.8L318.0 136.0L317.1 135.2L316.1 134.5L315.2 133.7L314.2 132.9L313.3 132.0L312.4 131.1L311.5 130.2L310.5 129.2L309.6 128.2L308.7 127.2L307.8 126.2L306.8 125.2L305.9 124.3L305.0 123.4L304.0 122.5L303.1 121.7L302.1 120.8L301.2 120.0L300.2 119.3L299.3 118.5L298.3 117.8L297.3 117.1L296.3 116.4L295.3 115.7L294.2 115.0L293.1 114.3L291.9 113.7L290.7 113.1L289.5 112.5L288.2 111.9L287.0 111.3L285.7 110.8L284.5 110.3L283.2 109.8L282.0 109.3L280.8 108.8L279.6 108.4L278.5 108.0L277.3 107.6L276.2 107.2L275.0 106.8L273.8 106.5L272.6 106.1L271.3 105.9L270.0 105.6L268.6 105.4L267.2 105.2L265.7 105.0L264.2 104.8L262.7 104.7L261.1 104.6L259.6 104.5L258.0 104.5L256.5 104.5L255.0 104.5L253.5 104.6L252.1 104.7L250.6 104.9L249.2 105.0L247.7 105.3L246.3 105.5L244.8 105.8L243.2 106.1L241.6 106.4L240.0 106.7L238.3 107.0L236.4 107.4L234.4 107.8L232.5 108.3L230.4 108.7L228.5 109.2L226.6 109.7L224.7 110.1L223.0 110.6L221.5 111.0L220.1 111.4L218.9 111.8L217.8 112.2L216.8 112.6L215.9 113.0L215.0 113.4L214.1 113.9L213.2 114.3L212.3 114.7L211.3 115.2L210.3 115.7L209.3 116.2L208.3 116.7L207.3 117.2L206.3 117.7L205.4 118.2L204.4 118.8L203.4 119.3L202.5 119.9L201.5 120.5L200.5 121.1L199.5 121.8L198.5 122.5L197.5 123.2L196.5 123.9L195.5 124.7L194.6 125.4L193.7 126.1L192.9 126.8L192.2 127.5L191.6 128.2L191.0 128.8L190.5 129.5L190.1 130.1L189.7 130.8L189.3 131.4L189.0 132.0L188.7 132.7L188.4 133.3L188.2 134.0L188.0 134.7L187.9 135.4L187.8 136.1L187.7 136.8L187.7 137.5L187.7 138.2L187.7 138.9L187.7 139.6L187.6 140.3L187.6 141.0L190.0 147.0L182.0 150.0L176.0 148.0Z"/></clipPath>
<rect x="206" y="90" width="92" height="26" fill="url(#ticks)" clip-path="url(#cb1)"/>
<path d="M350.4 203.0L350.3 203.9L350.3 204.8L350.2 205.7L350.1 206.6L350.0 207.5L349.9 208.4L349.8 209.4L349.7 210.3L349.6 211.2L349.5 212.1L349.4 213.0L349.2 213.9L349.1 214.8L348.9 215.7L348.8 216.5L348.6 217.4L348.4 218.3L348.2 219.2L348.0 220.1L347.9 221.0L347.7 221.9L347.4 222.8L347.2 223.6L347.0 224.5L346.8 225.4L346.5 226.3L346.3 227.1L346.0 228.0L345.8 228.9L338.2 229.0L340.6 218.0L341.5 205.0Z" fill="url(#dots)"/>
<path d="M334.3 255.2L333.7 256.2L333.1 257.3L332.4 258.3L331.8 259.3L331.1 260.3L330.5 261.3L329.8 262.3L329.1 263.3L328.4 264.3L327.7 265.3L326.9 266.3L326.2 267.2L325.5 268.2L324.7 269.1L323.9 270.1L323.2 271.0L322.4 272.0L321.6 272.9L320.7 273.8L319.9 274.7L319.1 275.6L318.2 276.5L317.4 277.4L316.5 278.2L315.6 279.1L314.7 279.9L313.8 280.8L312.9 281.6L312.0 282.4L311.0 283.3L310.1 284.1L309.1 284.9L308.2 285.6L307.2 286.4L306.2 287.2L305.2 287.9L304.2 288.7L303.1 289.4L302.1 290.1L301.1 290.8L300.0 291.5L299.0 292.2L297.9 292.8L296.8 293.5L295.7 294.1L294.6 294.7L293.5 295.3L292.4 295.9L291.2 296.5L290.1 297.1L289.0 297.6L287.8 298.1L286.6 298.7L285.5 299.2L284.3 299.7L283.1 300.1L281.9 300.6L280.7 301.0L279.5 301.5L278.3 301.9L277.1 302.3L275.8 302.6L274.6 303.0L273.4 303.3L272.1 303.6L270.9 303.9L269.6 304.2L268.4 304.5L267.1 304.8L265.8 305.0L264.5 305.2L263.3 305.4L262.0 305.6L260.7 305.7L259.4 305.9L258.1 306.0L256.8 306.1L255.5 306.2L254.3 306.2L253.0 306.3L251.7 306.3L250.4 306.3L249.1 306.3L247.8 306.3L246.5 306.2L245.2 306.2L243.9 306.1L242.6 306.0L241.3 305.8L240.0 305.7L238.7 305.5L237.4 305.3L236.1 305.1L234.9 304.9L233.6 304.7L232.3 304.4L231.0 304.1L229.8 303.8L228.5 303.5L227.3 303.2L226.0 302.8L224.8 302.5L223.5 302.1L222.3 301.7L221.1 301.2L219.8 300.8L218.6 300.3L217.4 299.9L216.2 299.4L215.0 298.8L213.9 298.3L212.7 297.8L211.5 297.2L210.4 296.6L209.2 296.0L208.1 295.4L207.0 294.8L205.8 294.1L204.7 293.5L203.6 292.8L202.5 292.1L201.5 291.4L200.4 290.7L199.3 290.0L198.3 289.2L197.3 288.4L196.2 287.7L195.2 286.9L194.2 286.1L193.2 285.3L192.3 284.4L191.3 283.6L190.4 282.7L189.4 281.9L188.5 281.0L187.6 280.1L186.7 279.2L185.8 278.3L184.9 277.4L184.0 276.5L183.2 275.5L182.4 274.6L181.5 273.6L180.7 272.6L179.9 271.7L179.1 270.7L178.4 269.7L177.6 268.7L176.9 267.7L176.1 266.7L175.4 265.6L174.7 264.6L174.0 263.6L173.3 262.5L172.7 261.4L172.0 260.4L171.4 259.3L170.7 258.2L170.1 257.2L178.0 252.0L189.5 260.0L189.6 261.0L189.7 262.0L189.8 263.0L189.9 264.0L190.0 264.9L190.1 265.9L190.2 266.9L190.4 267.9L190.7 269.0L191.0 270.0L191.4 271.1L191.9 272.2L192.4 273.3L192.9 274.4L193.5 275.6L194.1 276.7L194.8 277.8L195.5 278.9L196.2 280.0L197.0 281.0L197.8 282.0L198.6 283.0L199.5 283.9L200.4 284.9L201.4 285.8L202.4 286.7L203.4 287.6L204.4 288.4L205.4 289.2L206.5 290.0L207.6 290.8L208.7 291.5L209.9 292.2L211.1 292.9L212.4 293.5L213.6 294.1L214.9 294.7L216.1 295.3L217.3 295.8L218.5 296.3L219.7 296.8L220.8 297.2L221.8 297.6L222.9 298.0L224.0 298.3L225.1 298.6L226.2 298.9L227.4 299.2L228.7 299.4L230.0 299.7L231.4 299.9L232.9 300.2L234.5 300.4L236.1 300.5L237.7 300.7L239.4 300.8L241.1 301.0L242.7 301.1L244.4 301.1L246.0 301.2L247.6 301.2L249.1 301.3L250.7 301.3L252.2 301.3L253.8 301.3L255.3 301.3L256.9 301.2L258.6 301.0L260.3 300.9L262.0 300.6L263.8 300.3L265.8 299.9L267.8 299.4L269.9 298.9L272.0 298.4L274.1 297.8L276.1 297.2L278.0 296.6L279.8 296.0L281.5 295.4L283.0 294.8L284.4 294.2L285.7 293.6L286.9 292.9L288.0 292.3L289.1 291.6L290.2 290.9L291.3 290.2L292.4 289.5L293.5 288.8L294.7 288.1L295.8 287.3L297.0 286.5L298.1 285.8L299.3 285.0L300.4 284.1L301.6 283.3L302.7 282.4L303.9 281.5L305.0 280.6L306.2 279.6L307.3 278.6L308.5 277.5L309.7 276.4L310.9 275.3L312.1 274.2L313.2 273.1L314.4 272.0L315.5 270.9L316.5 269.8L317.5 268.7L318.5 267.7L319.5 266.6L320.4 265.6L321.3 264.6L322.2 263.5L323.0 262.5L323.8 261.5L324.6 260.5L325.4 259.5L326.1 258.5L326.8 257.6L327.5 256.7L328.1 255.8L328.7 254.9L329.3 253.9Z" fill="url(#dots)"/>
<clipPath id="cb2"><path d="M334.3 255.2L333.7 256.2L333.1 257.3L332.4 258.3L331.8 259.3L331.1 260.3L330.5 261.3L329.8 262.3L329.1 263.3L328.4 264.3L327.7 265.3L326.9 266.3L326.2 267.2L325.5 268.2L324.7 269.1L323.9 270.1L323.2 271.0L322.4 272.0L321.6 272.9L320.7 273.8L319.9 274.7L319.1 275.6L318.2 276.5L317.4 277.4L316.5 278.2L315.6 279.1L314.7 279.9L313.8 280.8L312.9 281.6L312.0 282.4L311.0 283.3L310.1 284.1L309.1 284.9L308.2 285.6L307.2 286.4L306.2 287.2L305.2 287.9L304.2 288.7L303.1 289.4L302.1 290.1L301.1 290.8L300.0 291.5L299.0 292.2L297.9 292.8L296.8 293.5L295.7 294.1L294.6 294.7L293.5 295.3L292.4 295.9L291.2 296.5L290.1 297.1L289.0 297.6L287.8 298.1L286.6 298.7L285.5 299.2L284.3 299.7L283.1 300.1L281.9 300.6L280.7 301.0L279.5 301.5L278.3 301.9L277.1 302.3L275.8 302.6L274.6 303.0L273.4 303.3L272.1 303.6L270.9 303.9L269.6 304.2L268.4 304.5L267.1 304.8L265.8 305.0L264.5 305.2L263.3 305.4L262.0 305.6L260.7 305.7L259.4 305.9L258.1 306.0L256.8 306.1L255.5 306.2L254.3 306.2L253.0 306.3L251.7 306.3L250.4 306.3L249.1 306.3L247.8 306.3L246.5 306.2L245.2 306.2L243.9 306.1L242.6 306.0L241.3 305.8L240.0 305.7L238.7 305.5L237.4 305.3L236.1 305.1L234.9 304.9L233.6 304.7L232.3 304.4L231.0 304.1L229.8 303.8L228.5 303.5L227.3 303.2L226.0 302.8L224.8 302.5L223.5 302.1L222.3 301.7L221.1 301.2L219.8 300.8L218.6 300.3L217.4 299.9L216.2 299.4L215.0 298.8L213.9 298.3L212.7 297.8L211.5 297.2L210.4 296.6L209.2 296.0L208.1 295.4L207.0 294.8L205.8 294.1L204.7 293.5L203.6 292.8L202.5 292.1L201.5 291.4L200.4 290.7L199.3 290.0L198.3 289.2L197.3 288.4L196.2 287.7L195.2 286.9L194.2 286.1L193.2 285.3L192.3 284.4L191.3 283.6L190.4 282.7L189.4 281.9L188.5 281.0L187.6 280.1L186.7 279.2L185.8 278.3L184.9 277.4L184.0 276.5L183.2 275.5L182.4 274.6L181.5 273.6L180.7 272.6L179.9 271.7L179.1 270.7L178.4 269.7L177.6 268.7L176.9 267.7L176.1 266.7L175.4 265.6L174.7 264.6L174.0 263.6L173.3 262.5L172.7 261.4L172.0 260.4L171.4 259.3L170.7 258.2L170.1 257.2L178.0 252.0L189.5 260.0L189.6 261.0L189.7 262.0L189.8 263.0L189.9 264.0L190.0 264.9L190.1 265.9L190.2 266.9L190.4 267.9L190.7 269.0L191.0 270.0L191.4 271.1L191.9 272.2L192.4 273.3L192.9 274.4L193.5 275.6L194.1 276.7L194.8 277.8L195.5 278.9L196.2 280.0L197.0 281.0L197.8 282.0L198.6 283.0L199.5 283.9L200.4 284.9L201.4 285.8L202.4 286.7L203.4 287.6L204.4 288.4L205.4 289.2L206.5 290.0L207.6 290.8L208.7 291.5L209.9 292.2L211.1 292.9L212.4 293.5L213.6 294.1L214.9 294.7L216.1 295.3L217.3 295.8L218.5 296.3L219.7 296.8L220.8 297.2L221.8 297.6L222.9 298.0L224.0 298.3L225.1 298.6L226.2 298.9L227.4 299.2L228.7 299.4L230.0 299.7L231.4 299.9L232.9 300.2L234.5 300.4L236.1 300.5L237.7 300.7L239.4 300.8L241.1 301.0L242.7 301.1L244.4 301.1L246.0 301.2L247.6 301.2L249.1 301.3L250.7 301.3L252.2 301.3L253.8 301.3L255.3 301.3L256.9 301.2L258.6 301.0L260.3 300.9L262.0 300.6L263.8 300.3L265.8 299.9L267.8 299.4L269.9 298.9L272.0 298.4L274.1 297.8L276.1 297.2L278.0 296.6L279.8 296.0L281.5 295.4L283.0 294.8L284.4 294.2L285.7 293.6L286.9 292.9L288.0 292.3L289.1 291.6L290.2 290.9L291.3 290.2L292.4 289.5L293.5 288.8L294.7 288.1L295.8 287.3L297.0 286.5L298.1 285.8L299.3 285.0L300.4 284.1L301.6 283.3L302.7 282.4L303.9 281.5L305.0 280.6L306.2 279.6L307.3 278.6L308.5 277.5L309.7 276.4L310.9 275.3L312.1 274.2L313.2 273.1L314.4 272.0L315.5 270.9L316.5 269.8L317.5 268.7L318.5 267.7L319.5 266.6L320.4 265.6L321.3 264.6L322.2 263.5L323.0 262.5L323.8 261.5L324.6 260.5L325.4 259.5L326.1 258.5L326.8 257.6L327.5 256.7L328.1 255.8L328.7 254.9L329.3 253.9Z"/></clipPath>
<rect x="206" y="288" width="84" height="20" fill="url(#ticks)" clip-path="url(#cb2)"/>
<path d="M177.2 139.0L178.3 137.4L179.5 135.9L180.7 134.5L182.0 133.0L183.2 131.6L184.5 130.1L185.9 128.8L187.2 127.4L188.6 126.0L190.0 124.7L191.5 123.4L192.9 122.2L194.4 120.9L195.9 119.7L197.5 118.6L199.0 117.4L200.6 116.3L202.2 115.2L203.8 114.1L205.5 113.1L207.2 112.1L208.9 111.2L210.6 110.2L212.3 109.4L214.1 108.5L215.9 107.7L217.6 106.9L219.5 106.2L221.3 105.5L223.1 104.8L225.0 104.2L226.9 103.6L228.7 103.1L230.6 102.6L232.5 102.1L234.5 101.7L236.4 101.3L238.3 100.9L240.3 100.6L242.2 100.3L244.2 100.1L246.1 99.9L248.1 99.8L250.0 99.7L252.0 99.6L254.0 99.6L256.0 99.6L257.9 99.7L259.9 99.8L261.8 99.9L263.8 100.1L265.8 100.3L267.7 100.6L269.7 100.9L271.6 101.3L273.5 101.7L275.4 102.1L277.3 102.6L279.2 103.2L281.1 103.7L282.9 104.4L284.8 105.0L286.6 105.8L288.4 106.5L290.2 107.3L291.9 108.2L293.7 109.1L295.4 110.0L297.0 111.0L298.7 112.0L300.3 113.1L301.9 114.2L303.5 115.3L305.0 116.4L306.6 117.6L308.1 118.9L309.5 120.1L311.0 121.4L312.4 122.7L313.8 124.0L315.2 125.3L316.5 126.6L317.9 128.0L319.2 129.4L320.5 130.8L321.8 132.2L323.0 133.6L324.3 135.0L325.5 136.4L326.7 137.9L327.9 139.3L329.0 140.8L330.2 142.3L331.3 143.8L332.4 145.4L333.4 146.9L334.4 148.5L335.4 150.1L336.4 151.7L337.3 153.3L338.2 154.9L339.1 156.6L339.9 158.2L340.7 159.9L341.5 161.6L342.3 163.4L343.0 165.1L343.6 166.8L344.3 168.6L344.9 170.3L345.5 172.1L346.1 173.9L346.7 175.7L347.2 177.5L347.6 179.3L348.1 181.1L348.5 182.9L348.8 184.8L349.1 186.6L349.4 188.5L349.6 190.3L349.8 192.2L349.9 194.0L350.0 195.9L350.0 197.8L350.0 199.6L349.9 201.5L349.9 203.4L349.7 205.2L349.6 207.1L349.4 208.9L349.2 210.8L348.9 212.6L348.6 214.5L348.3 216.3L348.0 218.1L347.6 219.9L347.2 221.8L346.7 223.6L346.3 225.4L345.8 227.1L345.3 228.9L344.7 230.7L344.2 232.5L343.6 234.2L342.9 236.0L342.3 237.7L341.6 239.4L340.9 241.1L340.1 242.8L339.4 244.5L338.6 246.2L337.8 247.9L336.9 249.6L336.0 251.2L335.2 252.8L334.2 254.5L333.3 256.1L332.3 257.7L331.3 259.3L330.3 260.8L329.2 262.4L328.1 263.9L326.9 265.4L325.8 266.9L324.6 268.4L323.4 269.8L322.1 271.3L320.8 272.7L319.5 274.1L318.2 275.4L316.9 276.8L315.5 278.1L314.1 279.4L312.7 280.7L311.2 282.0L309.8 283.3L308.3 284.5L306.8 285.7L305.2 286.9L303.7 288.0L302.1 289.1L300.4 290.2L298.8 291.3L297.1 292.3L295.5 293.3L293.7 294.2L292.0 295.2L290.3 296.1L288.5 296.9L286.7 297.7L284.9 298.5L283.0 299.3L281.2 300.0L279.3 300.6L277.4 301.2L275.5 301.8L273.6 302.4L271.7 302.9L269.7 303.3L267.8 303.7L265.8 304.1L263.9 304.4L261.9 304.7L259.9 305.0L257.9 305.1L255.9 305.3L253.9 305.4L251.9 305.4L249.9 305.4L247.9 305.4L245.9 305.3L243.9 305.2L241.8 305.0L239.8 304.8L237.9 304.5L235.9 304.2L233.9 303.8L231.9 303.4L230.0 303.0L228.0 302.5L226.1 301.9L224.2 301.3L222.3 300.6L220.4 300.0L218.5 299.2L216.7 298.4L214.8 297.6L213.0 296.8L211.3 295.9L209.5 294.9L207.8 293.9L206.0 292.9L204.3 291.9L202.7 290.8L201.0 289.7L199.4 288.5L197.8 287.3L196.3 286.1L194.8 284.9L193.3 283.6L191.8 282.3L190.3 280.9L188.9 279.6L187.5 278.2L186.2 276.8L184.8 275.3L183.5 273.9L182.3 272.4L181.0 270.9L179.8 269.4L178.7 267.8L177.5 266.2L176.4 264.7L175.3 263.1L174.3 261.4L173.3 259.8L172.3 258.1L171.3 256.5L168.9 257.8L169.9 259.5L170.9 261.2L171.9 262.9L173.0 264.6L174.1 266.2L175.3 267.8L176.5 269.4L177.7 271.0L178.9 272.6L180.2 274.1L181.5 275.6L182.9 277.1L184.2 278.6L185.6 280.1L187.1 281.5L188.5 282.9L190.0 284.2L191.6 285.5L193.1 286.8L194.7 288.1L196.4 289.3L198.0 290.5L199.7 291.6L201.4 292.8L203.1 293.8L204.9 294.9L206.7 295.9L208.5 296.9L210.3 297.8L212.1 298.7L214.0 299.5L215.9 300.3L217.8 301.1L219.7 301.8L221.6 302.5L223.6 303.1L225.6 303.7L227.6 304.2L229.5 304.7L231.5 305.2L233.5 305.6L235.6 306.0L237.6 306.3L239.6 306.5L241.7 306.8L243.7 307.0L245.8 307.1L247.8 307.2L249.9 307.2L251.9 307.2L254.0 307.1L256.0 307.0L258.0 306.9L260.1 306.7L262.1 306.4L264.1 306.1L266.1 305.8L268.1 305.4L270.1 305.0L272.1 304.5L274.1 304.0L276.0 303.5L278.0 302.9L279.9 302.2L281.8 301.5L283.7 300.8L285.5 300.1L287.4 299.3L289.2 298.4L291.0 297.6L292.8 296.6L294.5 295.7L296.3 294.7L298.0 293.7L299.7 292.7L301.4 291.6L303.0 290.5L304.6 289.3L306.2 288.2L307.8 287.0L309.3 285.8L310.8 284.5L312.3 283.2L313.8 281.9L315.2 280.6L316.6 279.3L317.9 277.9L319.3 276.4L320.6 275.0L321.8 273.6L323.1 272.1L324.3 270.6L325.5 269.1L326.6 267.6L327.7 266.0L328.8 264.5L329.9 262.9L331.0 261.3L332.0 259.8L333.1 258.2L334.1 256.6L335.0 254.9L336.0 253.3L336.9 251.6L337.7 250.0L338.6 248.3L339.4 246.6L340.2 244.9L341.0 243.2L341.7 241.5L342.5 239.8L343.1 238.0L343.8 236.3L344.4 234.5L345.1 232.8L345.6 231.0L346.2 229.2L346.7 227.4L347.2 225.6L347.7 223.8L348.1 222.0L348.5 220.2L348.9 218.3L349.3 216.5L349.6 214.6L349.9 212.8L350.1 210.9L350.4 209.1L350.6 207.2L350.7 205.3L350.8 203.4L350.9 201.5L351.0 199.7L351.0 197.8L351.0 195.9L350.9 194.0L350.8 192.1L350.7 190.2L350.6 188.3L350.4 186.4L350.2 184.5L349.9 182.7L349.6 180.8L349.3 178.9L348.9 177.0L348.5 175.2L348.0 173.3L347.5 171.5L347.0 169.7L346.4 167.8L345.8 166.0L345.1 164.2L344.4 162.5L343.6 160.7L342.8 159.0L342.0 157.2L341.2 155.5L340.3 153.8L339.3 152.1L338.4 150.5L337.4 148.8L336.4 147.2L335.3 145.6L334.3 144.0L333.1 142.5L332.0 140.9L330.9 139.4L329.7 137.9L328.5 136.4L327.3 134.9L326.0 133.5L324.8 132.0L323.5 130.6L322.2 129.2L320.9 127.8L319.5 126.4L318.2 125.0L316.8 123.6L315.4 122.3L314.0 121.0L312.5 119.6L311.1 118.3L309.6 117.1L308.0 115.8L306.5 114.6L304.9 113.4L303.3 112.2L301.6 111.1L299.9 110.0L298.2 109.0L296.5 108.0L294.8 107.0L293.0 106.1L291.2 105.2L289.3 104.4L287.5 103.6L285.6 102.9L283.7 102.2L281.8 101.5L279.9 100.9L277.9 100.4L276.0 99.8L274.0 99.4L272.0 99.0L270.1 98.6L268.1 98.3L266.1 98.0L264.1 97.8L262.0 97.6L260.0 97.4L258.0 97.3L256.0 97.3L254.0 97.2L252.0 97.3L249.9 97.3L247.9 97.4L245.9 97.6L243.9 97.8L241.9 98.0L239.9 98.3L237.9 98.6L235.9 98.9L234.0 99.3L232.0 99.8L230.0 100.3L228.1 100.8L226.2 101.3L224.3 101.9L222.3 102.6L220.5 103.3L218.6 104.0L216.7 104.7L214.9 105.5L213.1 106.4L211.3 107.2L209.5 108.1L207.7 109.1L206.0 110.1L204.3 111.1L202.6 112.1L200.9 113.2L199.2 114.3L197.6 115.5L196.0 116.6L194.4 117.9L192.9 119.1L191.4 120.4L189.9 121.6L188.4 123.0L187.0 124.3L185.5 125.7L184.2 127.1L182.8 128.5L181.5 130.0L180.2 131.4L178.9 132.9L177.6 134.4L176.4 136.0L175.2 137.5Z" fill="#000" stroke="#000" stroke-width="0.3" stroke-linejoin="round"/>
<path d="M189.2 141.1L189.2 140.4L189.3 139.6L189.3 138.9L189.3 138.2L189.3 137.5L189.3 136.9L189.4 136.2L189.4 135.6L189.6 135.1L189.7 134.5L189.9 133.9L190.2 133.3L190.4 132.7L190.7 132.1L191.0 131.6L191.4 131.0L191.8 130.4L192.2 129.8L192.8 129.2L193.3 128.6L194.0 128.0L194.8 127.3L195.6 126.6L196.5 125.9L197.4 125.2L198.4 124.5L199.4 123.8L200.4 123.1L201.4 122.5L202.4 121.8L203.3 121.2L204.2 120.7L205.2 120.1L206.1 119.5L207.0 119.0L208.0 118.5L209.0 117.9L209.9 117.4L210.9 116.9L211.9 116.4L212.9 116.0L213.8 115.5L214.6 115.0L215.5 114.6L216.4 114.2L217.3 113.8L218.3 113.4L219.3 113.0L220.5 112.5L221.8 112.1L223.3 111.6L225.0 111.2L226.8 110.7L228.7 110.2L230.7 109.7L232.7 109.3L234.7 108.8L236.6 108.4L238.5 108.1L240.2 107.7L241.8 107.4L243.4 107.1L244.9 106.8L246.4 106.5L247.9 106.3L249.3 106.1L250.7 105.9L252.2 105.8L253.6 105.6L255.0 105.6L256.5 105.5L258.0 105.5L259.6 105.6L261.1 105.7L262.6 105.8L264.1 105.9L265.6 106.1L267.0 106.3L268.4 106.5L269.8 106.7L271.1 107.0L272.3 107.2L273.5 107.5L274.7 107.9L275.8 108.2L277.0 108.6L278.1 109.0L279.2 109.5L280.4 109.9L281.6 110.4L282.8 110.8L284.0 111.3L285.3 111.9L286.5 112.4L287.8 113.0L289.0 113.5L290.2 114.1L291.4 114.7L292.5 115.3L293.6 116.0L294.7 116.6L295.7 117.3L296.7 118.0L297.6 118.7L298.6 119.4L299.5 120.1L300.4 120.9L301.4 121.7L302.3 122.5L303.2 123.3L304.2 124.2L305.1 125.1L306.0 126.0L307.0 127.0L307.9 128.0L308.8 129.0L309.7 130.0L310.7 130.9L311.6 131.9L312.5 132.8L313.5 133.7L314.5 134.5L315.4 135.3L316.4 136.1L317.3 136.9L318.3 137.6L319.2 138.4L320.0 139.2L320.8 140.0L321.6 140.8L322.3 141.7L322.9 142.6L323.6 143.6L324.2 144.6L324.8 145.6L325.3 146.6L325.9 147.6L326.4 148.7L327.0 149.7L327.5 150.7L328.1 151.7L328.6 152.7L329.2 153.8L329.7 154.8L330.2 155.8L330.7 156.8L331.2 157.8L331.6 158.8L332.1 159.8L332.5 160.7L332.9 161.7L333.3 162.5L333.7 163.4L334.0 164.2L334.3 165.0L334.7 165.8L335.0 166.6L335.3 167.5L335.6 168.4L336.0 169.4L336.4 170.4L336.7 171.4L337.1 172.5L337.5 173.6L337.9 174.7L338.3 175.9L338.6 177.0L339.0 178.1L339.3 179.2L339.6 180.3L339.8 181.3L340.1 182.4L340.3 183.5L340.6 184.6L340.8 185.6L341.0 186.7L341.1 187.7L341.3 188.6L341.4 189.5L341.6 190.3L341.6 191.1L341.7 191.7L341.7 192.3L341.8 192.9L341.8 193.4L341.8 193.9L341.7 194.4L341.7 194.9L341.7 195.5L341.8 196.0L343.8 196.0L343.8 195.4L343.8 194.9L343.8 194.4L343.9 193.9L343.9 193.4L343.9 192.8L343.8 192.2L343.8 191.6L343.7 190.8L343.6 190.1L343.5 189.2L343.4 188.3L343.2 187.3L343.0 186.3L342.9 185.2L342.6 184.1L342.4 183.0L342.2 181.9L341.9 180.8L341.6 179.7L341.3 178.6L341.0 177.5L340.7 176.4L340.3 175.2L339.9 174.1L339.5 172.9L339.1 171.8L338.8 170.7L338.4 169.6L338.0 168.6L337.7 167.7L337.3 166.8L337.0 165.9L336.7 165.0L336.3 164.2L336.0 163.4L335.7 162.5L335.3 161.7L334.9 160.8L334.5 159.9L334.1 158.9L333.6 157.9L333.1 156.9L332.6 155.9L332.1 154.9L331.6 153.8L331.1 152.8L330.6 151.7L330.0 150.7L329.5 149.7L328.9 148.7L328.4 147.6L327.8 146.6L327.2 145.5L326.7 144.5L326.1 143.4L325.4 142.4L324.7 141.4L324.0 140.4L323.2 139.4L322.4 138.5L321.5 137.6L320.6 136.7L319.7 135.9L318.8 135.2L317.8 134.4L316.8 133.6L315.9 132.8L315.0 132.0L314.1 131.2L313.2 130.3L312.3 129.4L311.4 128.4L310.4 127.4L309.5 126.4L308.6 125.5L307.6 124.5L306.7 123.5L305.7 122.6L304.8 121.7L303.8 120.8L302.8 120.0L301.9 119.2L300.9 118.4L300.0 117.6L299.0 116.9L298.0 116.1L297.0 115.4L295.9 114.7L294.8 114.0L293.6 113.4L292.4 112.7L291.2 112.1L290.0 111.5L288.7 110.9L287.4 110.3L286.2 109.8L284.9 109.2L283.6 108.7L282.4 108.2L281.2 107.8L280.0 107.3L278.9 106.9L277.7 106.5L276.5 106.1L275.3 105.7L274.1 105.4L272.9 105.1L271.5 104.8L270.2 104.5L268.8 104.3L267.3 104.1L265.8 103.9L264.3 103.7L262.8 103.6L261.2 103.5L259.6 103.4L258.1 103.4L256.5 103.4L255.0 103.4L253.4 103.5L252.0 103.6L250.5 103.8L249.0 104.0L247.6 104.2L246.1 104.5L244.6 104.8L243.0 105.0L241.4 105.4L239.8 105.7L238.1 106.0L236.2 106.4L234.2 106.8L232.2 107.3L230.2 107.7L228.2 108.2L226.3 108.6L224.5 109.1L222.7 109.5L221.2 109.9L219.8 110.3L218.5 110.7L217.4 111.1L216.3 111.5L215.3 111.9L214.4 112.3L213.5 112.7L212.6 113.1L211.7 113.5L210.7 114.0L209.7 114.4L208.7 114.9L207.7 115.4L206.7 115.9L205.6 116.4L204.6 116.9L203.6 117.4L202.6 118.0L201.6 118.6L200.6 119.2L199.6 119.8L198.6 120.5L197.6 121.2L196.6 121.9L195.5 122.6L194.5 123.4L193.6 124.1L192.7 124.9L191.8 125.6L191.1 126.4L190.4 127.1L189.8 127.8L189.2 128.5L188.7 129.2L188.3 129.9L187.9 130.6L187.5 131.4L187.2 132.1L186.9 132.8L186.7 133.5L186.4 134.3L186.3 135.1L186.2 135.9L186.1 136.7L186.1 137.4L186.1 138.2L186.1 138.9L186.1 139.6L186.0 140.2L186.0 140.9Z" fill="#000" stroke="#000" stroke-width="0.3" stroke-linejoin="round"/>
<path d="M315.1 270.5L314.0 271.6L312.8 272.7L311.7 273.8L310.5 274.8L309.2 275.9L308.0 277.0L306.8 278.0L305.6 279.0L304.4 279.9L303.3 280.8L302.2 281.7L301.0 282.6L299.9 283.4L298.8 284.2L297.6 285.0L296.5 285.8L295.3 286.6L294.2 287.3L293.0 288.0L291.9 288.8L290.8 289.5L289.7 290.2L288.6 290.9L287.5 291.5L286.4 292.1L285.3 292.8L284.0 293.4L282.7 294.0L281.2 294.6L279.5 295.1L277.7 295.7L275.8 296.3L273.8 296.9L271.8 297.5L269.7 298.0L267.6 298.5L265.6 299.0L263.7 299.4L261.9 299.7L260.1 300.0L258.5 300.2L256.9 300.3L255.3 300.4L253.8 300.4L252.2 300.4L250.7 300.4L249.2 300.4L247.6 300.3L246.0 300.3L244.4 300.2L242.8 300.2L241.1 300.1L239.5 299.9L237.8 299.8L236.2 299.6L234.6 299.5L233.0 299.3L231.6 299.0L230.2 298.8L228.8 298.6L227.6 298.3L226.5 298.0L225.3 297.7L224.3 297.4L223.2 297.1L222.1 296.7L221.1 296.4L220.0 295.9L218.8 295.5L217.7 295.0L216.5 294.4L215.2 293.9L214.0 293.3L212.8 292.7L211.6 292.1L210.4 291.4L209.2 290.7L208.1 290.0L207.0 289.3L206.0 288.5L204.9 287.7L203.9 286.9L203.0 286.0L202.0 285.1L201.1 284.2L200.2 283.3L199.3 282.4L198.5 281.4L197.7 280.4L197.0 279.5L196.3 278.4L195.6 277.3L194.9 276.2L194.3 275.1L193.7 274.0L193.2 272.9L192.7 271.8L192.2 270.7L191.8 269.7L191.5 268.7L191.3 267.7L191.1 266.8L191.0 265.8L190.9 264.9L190.8 263.9L190.7 262.9L190.6 261.9L190.5 260.9L190.4 259.9L188.6 260.1L188.7 261.1L188.8 262.1L188.9 263.0L189.0 264.0L189.1 265.0L189.2 266.0L189.3 267.1L189.5 268.1L189.8 269.2L190.2 270.3L190.6 271.4L191.0 272.5L191.5 273.7L192.1 274.8L192.7 276.0L193.4 277.1L194.0 278.3L194.8 279.4L195.5 280.5L196.3 281.6L197.1 282.6L198.0 283.6L198.9 284.5L199.8 285.5L200.8 286.4L201.8 287.4L202.8 288.2L203.8 289.1L204.9 289.9L206.0 290.7L207.1 291.5L208.3 292.2L209.5 293.0L210.7 293.6L212.0 294.3L213.2 294.9L214.5 295.5L215.7 296.1L217.0 296.6L218.2 297.1L219.3 297.6L220.4 298.0L221.5 298.4L222.6 298.8L223.7 299.2L224.9 299.5L226.0 299.8L227.2 300.1L228.5 300.3L229.8 300.6L231.3 300.8L232.8 301.0L234.4 301.2L236.0 301.4L237.6 301.6L239.3 301.7L241.0 301.9L242.7 302.0L244.3 302.0L246.0 302.1L247.6 302.1L249.1 302.2L250.7 302.2L252.2 302.2L253.8 302.2L255.4 302.2L257.0 302.1L258.7 301.9L260.4 301.7L262.1 301.5L264.0 301.2L266.0 300.8L268.0 300.3L270.1 299.8L272.2 299.2L274.3 298.7L276.4 298.1L278.3 297.5L280.1 296.8L281.8 296.2L283.4 295.6L284.8 295.0L286.1 294.4L287.3 293.7L288.5 293.1L289.6 292.4L290.7 291.7L291.7 291.0L292.8 290.3L294.0 289.6L295.2 288.8L296.3 288.1L297.5 287.3L298.6 286.5L299.8 285.7L301.0 284.9L302.1 284.0L303.3 283.1L304.4 282.2L305.6 281.3L306.7 280.3L307.9 279.2L309.0 278.1L310.2 277.0L311.4 275.8L312.5 274.7L313.6 273.5L314.7 272.4L315.8 271.2Z" fill="#000" stroke="#000" stroke-width="0.3" stroke-linejoin="round"/>
<path d="M195.1 152.7L194.9 152.0L194.6 151.2L194.3 150.5L194.0 149.8L193.7 149.0L193.5 148.3L193.2 147.6L193.0 147.0L192.8 146.3L192.7 145.7L192.5 145.0L192.4 144.3L192.2 143.7L192.1 143.1L192.1 142.5L192.0 141.9L192.0 141.3L192.0 140.8L192.0 140.2L192.1 139.6L192.2 139.0L192.3 138.4L192.5 137.8L192.7 137.2L193.0 136.6L193.2 136.0L193.5 135.3L193.9 134.7L194.2 134.1L194.6 133.4L195.1 132.8L195.6 132.2L196.1 131.5L196.6 130.9L197.2 130.2L197.9 129.6L198.5 128.9L199.2 128.3L200.0 127.6L200.7 127.0L201.6 126.3L202.5 125.6L203.4 124.9L204.4 124.2L205.5 123.5L206.5 122.9L207.6 122.2L208.6 121.5L209.7 120.9L210.7 120.3L211.7 119.7L212.7 119.1L213.6 118.6L214.5 118.1L215.4 117.6L216.3 117.2L217.3 116.7L218.4 116.2L219.6 115.8L221.0 115.3L222.6 114.9L224.3 114.4L226.2 113.9L228.2 113.4L230.3 112.9L232.4 112.5L234.5 112.1L236.5 111.7L238.4 111.3L240.2 111.0L241.8 110.8L243.4 110.6L244.9 110.4L246.4 110.3L247.8 110.2L249.3 110.1L250.7 110.1L252.1 110.1L253.5 110.1L255.0 110.1L256.5 110.1L258.0 110.2L259.5 110.3L261.0 110.4L262.6 110.6L264.1 110.8L265.6 110.9L267.0 111.2L268.4 111.4L269.8 111.6L271.1 111.9L272.4 112.2L273.6 112.5L274.8 112.8L276.0 113.2L277.2 113.6L278.4 113.9L279.5 114.3L280.6 114.7L281.6 115.1L282.6 115.4L283.6 115.8L284.5 116.1L285.4 116.5L286.3 116.8L287.1 117.2L287.9 117.5L288.8 117.9L289.6 118.3L290.5 118.8L291.4 119.2L292.3 119.6L293.2 120.1L294.1 120.5L295.0 121.0L295.8 121.5L296.7 122.0L297.6 122.5L298.5 123.1L299.4 123.8L300.3 124.5L301.2 125.3L302.2 126.2L303.1 127.1L304.1 128.0L305.0 129.0L306.0 129.9L307.0 130.9L307.9 131.8L308.9 132.7L309.8 133.5L310.8 134.3L311.7 135.1L312.7 135.9L313.6 136.7L314.5 137.4L315.4 138.2L316.2 139.0L317.0 139.8L317.7 140.6L318.4 141.5L319.1 142.5L319.7 143.4L320.4 144.4L320.9 145.4L321.5 146.4L322.1 147.5L322.6 148.5L323.2 149.5L323.7 150.6L324.3 151.6L324.9 152.6L325.4 153.6L326.0 154.6L326.5 155.6L327.0 156.7L327.5 157.7L328.0 158.6L328.4 159.6L328.9 160.6L329.3 161.5L329.6 162.4L329.9 163.3L330.2 164.2L330.5 165.0L330.8 165.9L331.1 166.8L331.4 167.7L331.6 168.6L331.9 169.6L332.2 170.6L332.4 171.6L332.7 172.6L333.0 173.7L333.2 174.7L333.5 175.8L333.7 176.9L334.0 178.0L334.2 179.1L334.5 180.1L335.5 179.9L335.3 178.8L335.1 177.7L334.8 176.6L334.6 175.6L334.4 174.5L334.1 173.4L333.9 172.3L333.6 171.3L333.4 170.2L333.1 169.2L332.8 168.3L332.6 167.3L332.3 166.4L332.1 165.5L331.8 164.6L331.5 163.7L331.2 162.8L330.9 161.9L330.5 161.0L330.1 160.0L329.7 159.0L329.3 158.0L328.8 157.0L328.3 156.0L327.8 155.0L327.3 153.9L326.7 152.9L326.2 151.9L325.6 150.9L325.1 149.8L324.5 148.8L324.0 147.8L323.5 146.7L322.9 145.7L322.3 144.6L321.8 143.6L321.1 142.5L320.5 141.5L319.8 140.5L319.1 139.6L318.3 138.6L317.4 137.8L316.6 136.9L315.7 136.1L314.7 135.3L313.8 134.5L312.9 133.7L312.0 133.0L311.0 132.1L310.1 131.3L309.2 130.4L308.3 129.5L307.4 128.6L306.4 127.6L305.4 126.6L304.5 125.7L303.5 124.7L302.5 123.8L301.6 123.0L300.6 122.2L299.7 121.5L298.7 120.8L297.8 120.2L296.9 119.7L296.0 119.2L295.1 118.7L294.2 118.2L293.3 117.7L292.4 117.3L291.5 116.8L290.6 116.4L289.7 116.0L288.9 115.6L288.0 115.2L287.1 114.8L286.2 114.4L285.3 114.0L284.4 113.7L283.4 113.3L282.4 112.9L281.3 112.6L280.2 112.2L279.1 111.8L277.9 111.4L276.7 111.0L275.5 110.7L274.2 110.3L272.9 110.0L271.6 109.7L270.2 109.4L268.8 109.1L267.4 108.9L265.9 108.7L264.4 108.5L262.8 108.3L261.3 108.1L259.7 108.0L258.1 107.9L256.6 107.8L255.0 107.7L253.5 107.7L252.1 107.7L250.6 107.7L249.2 107.7L247.7 107.8L246.2 107.9L244.7 108.0L243.1 108.1L241.5 108.3L239.8 108.6L238.0 108.8L236.0 109.2L234.0 109.5L231.9 109.9L229.7 110.3L227.6 110.8L225.6 111.3L223.6 111.7L221.8 112.2L220.2 112.7L218.7 113.1L217.4 113.6L216.2 114.1L215.1 114.6L214.1 115.0L213.1 115.6L212.2 116.1L211.2 116.6L210.3 117.1L209.3 117.7L208.2 118.3L207.1 119.0L206.0 119.6L204.9 120.3L203.8 121.0L202.7 121.8L201.7 122.5L200.7 123.2L199.7 123.9L198.9 124.6L198.0 125.3L197.2 126.0L196.5 126.8L195.7 127.5L195.0 128.2L194.4 128.9L193.8 129.6L193.2 130.3L192.7 131.0L192.2 131.8L191.7 132.5L191.2 133.2L190.9 134.0L190.5 134.7L190.2 135.4L189.9 136.2L189.6 136.9L189.4 137.7L189.3 138.4L189.1 139.2L189.0 139.9L189.0 140.7L189.0 141.4L189.0 142.1L189.1 142.9L189.2 143.6L189.3 144.3L189.4 144.9L189.6 145.6L189.7 146.3L189.9 147.1L190.1 147.8L190.4 148.6L190.7 149.3L190.9 150.1L191.2 150.8L191.5 151.6L191.8 152.3L192.0 153.0L192.3 153.7Z" fill="#000" stroke="#000" stroke-width="0.3" stroke-linejoin="round"/>
<path d="M297.2 125.0L298.0 125.6L298.8 126.3L299.7 127.0L300.6 127.9L301.5 128.7L302.4 129.7L303.4 130.6L304.3 131.6L305.3 132.5L306.3 133.5L307.3 134.4L308.2 135.3L309.2 136.2L310.2 137.0L311.1 137.7L312.0 138.5L312.9 139.2L313.7 140.0L314.5 140.7L315.2 141.4L315.8 142.2L316.5 143.0L317.1 143.8L317.6 144.7L318.2 145.7L318.8 146.6L319.3 147.6L319.8 148.6L320.4 149.7L320.9 150.7L321.5 151.8L322.1 152.8L322.6 153.8L323.2 154.8L323.7 155.8L324.2 156.8L324.7 157.8L325.2 158.8L325.6 159.7L326.1 160.7L326.5 161.6L326.8 162.5L327.2 163.3L327.5 164.2L327.7 165.0L328.0 165.8" fill="none" stroke="#000" stroke-width="0.7" stroke-linejoin="round" />
<path d="M340.2 204.9L340.1 205.9L340.1 206.9L340.0 207.9L340.0 208.9L340.0 209.9L339.9 210.8L339.8 211.8L339.7 212.8L339.6 213.8L339.5 214.8L339.4 215.9L339.2 216.9L339.0 218.0L338.8 219.0L338.6 220.1L338.3 221.2L338.1 222.3L337.8 223.4L337.5 224.5L337.2 225.7L336.9 226.8L336.6 228.0L336.3 229.2L335.9 230.3L335.5 231.5L335.1 232.8L334.8 234.0L334.4 235.2L334.0 236.4L333.7 237.6L333.3 238.9L332.9 240.1L332.6 241.4L332.2 242.6L331.9 243.9L331.5 245.1L331.1 246.3L330.6 247.4L330.2 248.5L329.7 249.6L329.2 250.6L328.6 251.5L328.1 252.4L327.6 253.3L327.0 254.1L326.4 255.0L325.8 255.8L325.1 256.7L324.4 257.6L323.7 258.5L322.9 259.5L322.1 260.5L321.3 261.5L320.4 262.5L319.5 263.5L318.6 264.5L317.7 265.5L316.7 266.5L315.7 267.5L314.7 268.5L313.6 269.5L312.5 270.5L311.3 271.6L310.1 272.7L308.9 273.7L307.7 274.8L306.4 275.8L305.2 276.8L304.0 277.7L302.8 278.6L301.7 279.4L300.5 280.2L299.4 280.9L298.3 281.6L297.1 282.3L296.0 283.0L294.9 283.6L293.7 284.3L292.6 284.9L291.5 285.5L290.3 286.1L289.3 286.7L288.2 287.2L287.2 287.7L286.2 288.2L285.1 288.7L284.0 289.2L282.8 289.7L281.6 290.1L280.1 290.6L278.6 291.1L276.9 291.6L275.1 292.1L273.2 292.6L271.3 293.1L269.3 293.6L267.3 294.0L265.4 294.4L263.6 294.8L261.8 295.1L260.2 295.3L258.5 295.4L257.0 295.5L255.4 295.6L253.8 295.6L252.3 295.6L250.7 295.6L249.2 295.6L247.6 295.5L246.0 295.5L244.4 295.4L242.8 295.3L241.1 295.2L239.4 295.1L237.8 295.0L236.2 294.8L234.6 294.7L233.0 294.5L231.6 294.3L230.2 294.1L228.9 293.8L227.7 293.6L226.6 293.3L225.6 293.1L224.5 292.8L223.5 292.4L222.6 292.1L221.6 291.7L220.5 291.3L219.4 290.9L218.3 290.4L217.2 289.9L216.0 289.4L214.9 288.9L213.7 288.3L212.6 287.7L211.5 287.1L210.4 286.5L209.3 285.9L208.3 285.2L207.4 284.5L206.4 283.8L205.4 283.0L204.5 282.3L203.6 281.5L202.8 280.7L201.9 279.9L201.1 279.0L200.3 278.2L199.6 277.3L198.9 276.4L198.2 275.5L197.6 274.5L196.9 273.5L196.3 272.5L195.8 271.5L195.2 270.5L194.7 269.5L194.2 268.5L193.8 267.5L193.4 266.5L193.0 265.5L192.7 264.5L192.4 263.5L192.1 262.5L191.9 261.5L191.7 260.5L191.5 259.6L191.4 258.7L191.3 257.8L191.2 257.1L191.2 256.4L191.2 255.7L191.2 255.0L191.3 254.4L191.4 253.8L191.5 253.2L191.6 252.6L191.8 252.0L191.9 251.4L192.1 250.8L192.3 250.3L192.6 249.7L192.8 249.2L193.1 248.6L193.4 248.0L193.7 247.5L194.0 246.9L194.4 246.4L194.7 245.8L195.1 245.3L195.5 244.8L195.9 244.3L196.3 243.7L196.8 243.2L197.3 242.7L197.7 242.1L198.2 241.6L198.7 241.0L199.2 240.5L196.8 238.5L196.4 239.1L195.9 239.6L195.5 240.1L195.0 240.7L194.5 241.2L194.0 241.8L193.6 242.4L193.1 243.0L192.7 243.6L192.3 244.2L191.9 244.8L191.5 245.4L191.1 246.0L190.8 246.6L190.4 247.2L190.1 247.9L189.8 248.5L189.5 249.2L189.3 249.9L189.1 250.6L188.9 251.3L188.7 251.9L188.5 252.6L188.4 253.3L188.3 254.1L188.2 254.8L188.2 255.6L188.2 256.4L188.2 257.3L188.3 258.2L188.4 259.1L188.6 260.1L188.8 261.1L189.0 262.1L189.2 263.2L189.5 264.3L189.8 265.4L190.2 266.5L190.6 267.6L191.0 268.7L191.5 269.7L192.0 270.8L192.6 271.9L193.1 273.0L193.8 274.0L194.4 275.1L195.1 276.1L195.8 277.2L196.6 278.2L197.4 279.1L198.2 280.0L199.1 281.0L199.9 281.8L200.9 282.7L201.8 283.6L202.8 284.4L203.8 285.2L204.8 285.9L205.8 286.7L206.9 287.4L208.0 288.1L209.1 288.8L210.2 289.4L211.4 290.0L212.6 290.6L213.8 291.1L215.0 291.7L216.2 292.2L217.4 292.7L218.6 293.1L219.7 293.5L220.7 293.9L221.8 294.3L222.8 294.6L223.9 295.0L225.0 295.3L226.1 295.6L227.2 295.8L228.5 296.1L229.8 296.3L231.2 296.6L232.7 296.8L234.3 297.0L235.9 297.1L237.6 297.3L239.3 297.4L241.0 297.5L242.7 297.6L244.3 297.7L246.0 297.7L247.6 297.8L249.1 297.9L250.7 297.9L252.3 297.9L253.9 297.9L255.5 297.9L257.1 297.8L258.7 297.7L260.4 297.6L262.2 297.3L264.0 297.1L265.9 296.7L267.8 296.3L269.8 295.8L271.8 295.4L273.8 294.9L275.7 294.3L277.5 293.8L279.3 293.3L280.9 292.8L282.3 292.3L283.7 291.8L284.9 291.3L286.1 290.8L287.2 290.3L288.3 289.8L289.3 289.2L290.4 288.7L291.4 288.1L292.5 287.5L293.7 286.9L294.8 286.3L296.0 285.6L297.2 285.0L298.3 284.3L299.5 283.6L300.6 282.9L301.8 282.1L303.0 281.3L304.2 280.4L305.4 279.5L306.6 278.6L307.9 277.6L309.1 276.5L310.4 275.5L311.6 274.4L312.9 273.3L314.1 272.2L315.2 271.2L316.3 270.1L317.3 269.1L318.3 268.0L319.3 267.0L320.3 266.0L321.2 264.9L322.1 263.9L322.9 262.9L323.8 261.8L324.6 260.8L325.3 259.9L326.1 258.9L326.8 258.0L327.5 257.1L328.1 256.2L328.7 255.3L329.3 254.4L329.9 253.5L330.4 252.5L331.0 251.5L331.5 250.4L332.0 249.3L332.5 248.2L333.0 247.0L333.4 245.7L333.8 244.5L334.3 243.3L334.7 242.0L335.1 240.8L335.5 239.6L335.9 238.4L336.4 237.2L336.8 236.0L337.2 234.8L337.6 233.5L338.0 232.3L338.4 231.1L338.8 229.9L339.1 228.7L339.4 227.5L339.8 226.3L340.1 225.2L340.3 224.0L340.6 222.9L340.9 221.8L341.1 220.6L341.3 219.5L341.5 218.4L341.7 217.3L341.9 216.3L342.1 215.2L342.2 214.1L342.3 213.1L342.4 212.0L342.5 211.0L342.5 210.0L342.6 209.0L342.6 208.0L342.7 207.0L342.7 206.1L342.8 205.1Z" fill="#000" stroke="#000" stroke-width="0.3" stroke-linejoin="round"/>
<path d="M342.8 196.0L342.6 196.6L342.4 197.2L342.2 197.9L342.1 198.5L341.8 199.0L341.5 199.5L341.1 199.9L340.6 200.1L340.0 200.3L339.5 200.5L339.0 200.7L338.6 201.0L338.3 201.4L338.0 201.8L337.8 202.2L337.6 202.7L337.5 203.1L337.6 203.5L337.8 203.9L338.1 204.2L338.6 204.5L339.1 204.9L339.6 205.2L340.0 205.5" fill="none" stroke="#000" stroke-width="1.5" stroke-linejoin="round" stroke-linecap="round"/>
<path d="M195.7 151.0L196.1 149.4L196.4 147.7L196.7 146.0L197.1 144.4L197.4 142.7L197.8 141.2L198.2 139.7L198.6 138.4L199.0 137.2L199.4 136.2L199.8 135.3L200.3 134.5L200.8 133.7L201.3 132.9L201.9 132.1L202.6 131.3L203.4 130.4L204.3 129.5L205.2 128.6L206.3 127.7L207.3 126.8L208.4 125.9L209.6 125.0L210.7 124.2L211.8 123.4L212.9 122.6L213.9 121.9L215.1 121.1L216.3 120.4L217.6 119.7L219.1 119.0L220.8 118.4L222.8 117.8L225.1 117.1L227.5 116.5L230.1 115.9L232.7 115.3L235.3 114.8L237.7 114.3L240.0 114.0L242.1 113.7L244.0 113.6L245.9 113.5L247.8 113.4L249.6 113.4L251.3 113.5L253.2 113.5L255.0 113.6L256.9 113.7L258.8 113.8L260.7 114.0L262.6 114.2L264.5 114.4L266.4 114.7L268.2 115.0L270.0 115.3L271.7 115.7L273.4 116.0L275.1 116.5L276.8 116.9L278.4 117.4L279.9 117.9L281.5 118.4L283.0 119.0L284.5 119.6L285.9 120.2L287.4 120.9L288.8 121.5L290.1 122.2L291.4 123.0L292.7 123.7L294.0 124.5L295.2 125.3L296.4 126.1L297.6 127.0L298.8 127.8L299.9 128.7L300.9 129.6L302.0 130.6L303.0 131.5L304.0 132.5L304.9 133.4L305.8 134.4L306.6 135.4L307.5 136.5L308.3 137.5L309.1 138.5L310.0 139.5" fill="none" stroke="#000" stroke-width="0.8" stroke-linejoin="round" stroke-dasharray="7 3.2"/>
<path d="M322.5 257.4L321.6 258.4L320.7 259.5L319.8 260.5L319.0 261.5L318.1 262.5L317.3 263.5L316.4 264.5L315.5 265.4L314.6 266.4L313.6 267.4L312.6 268.4L311.5 269.4L310.3 270.4L309.1 271.5L307.9 272.5L306.7 273.6L305.5 274.6L304.2 275.5L303.1 276.5L301.9 277.3L300.8 278.1L299.7 278.9L298.6 279.6L297.4 280.3L296.3 281.0L295.2 281.6L294.1 282.3L293.0 282.9L291.9 283.5L290.7 284.1L289.6 284.7L288.5 285.3L287.5 285.8L286.5 286.3L285.5 286.8L284.5 287.3L283.4 287.8L282.3 288.2L281.0 288.7L279.7 289.1L278.1 289.6L276.5 290.1L274.7 290.6L272.8 291.1L270.9 291.6L268.9 292.1L267.0 292.5L265.1 292.9L263.3 293.3L261.6 293.5L260.0 293.7L258.4 293.9L256.9 294.0L255.3 294.0L253.8 294.1L252.3 294.1L250.8 294.0L249.2 294.0L247.7 294.0L246.1 293.9L244.5 293.8L242.9 293.8L241.2 293.7L239.6 293.6L237.9 293.4L236.3 293.3L234.7 293.1L233.2 292.9L231.8 292.7L230.5 292.5L229.2 292.3L228.1 292.1L227.0 291.8L226.0 291.6L225.0 291.3L224.0 291.0L223.1 290.7L222.1 290.3L221.1 289.9L220.0 289.5L218.9 289.0L217.8 288.6L216.6 288.1L215.5 287.6L214.4 287.0L213.2 286.5L212.2 285.9L211.1 285.3L210.1 284.7L209.1 284.1L208.1 283.4L207.2 282.7L206.3 282.0L205.4 281.3L204.5 280.5L203.7 279.7L202.8 278.9L202.1 278.1L201.3 277.3L200.6 276.5L199.9 275.6L199.2 274.7L198.6 273.8L198.0 272.9L197.4 271.9L196.8 270.9L196.3 269.9L195.8 269.0L195.3 268.0L194.9 267.0L194.5 266.1L194.2 265.2L193.8 264.2L193.6 263.2L193.3 262.2L193.1 261.2L192.9 260.3L192.7 259.4L192.6 258.5L192.5 257.7L192.4 257.0L192.4 256.3L192.4 255.7L192.4 255.1L192.5 254.6L192.6 254.0L192.7 253.5L192.8 252.9L192.9 252.3L193.1 251.8L193.2 251.3L193.4 250.8L193.7 250.3L193.9 249.8L194.2 249.3L194.5 248.7L194.9 248.1L195.2 247.5L195.6 246.9L195.9 246.2" fill="none" stroke="#000" stroke-width="0.7" stroke-linejoin="round" />
<path d="M319.1 254.4L318.2 255.5L317.3 256.5L316.4 257.6L315.5 258.6L314.7 259.6L313.9 260.5L313.1 261.4L312.2 262.3L311.4 263.2L310.5 264.1L309.5 265.1L308.4 266.1L307.3 267.1L306.2 268.1L305.0 269.1L303.8 270.1L302.6 271.1L301.5 272.0L300.3 272.9L299.2 273.7L298.2 274.4L297.2 275.2L296.1 275.8L295.1 276.5L294.0 277.1L293.0 277.7L291.9 278.4L290.8 279.0L289.7 279.5L288.6 280.1L287.5 280.7L286.4 281.3L285.5 281.8L284.5 282.3L283.6 282.8L282.7 283.2L281.7 283.6L280.7 284.0L279.5 284.4L278.3 284.9L276.8 285.3L275.2 285.8L273.5 286.3L271.6 286.8L269.8 287.3L267.9 287.7L266.1 288.1L264.3 288.5L262.6 288.8L261.0 289.1L259.5 289.3L258.1 289.4L256.6 289.5L255.2 289.5L253.8 289.6L252.3 289.6L250.9 289.5L249.4 289.5L247.8 289.5L246.2 289.4L244.7 289.3L243.1 289.3L241.5 289.2L239.9 289.1L238.3 289.0L236.7 288.8L235.2 288.7L233.8 288.5L232.4 288.3L231.2 288.1L230.1 287.9L229.0 287.7L228.1 287.5L227.2 287.2L226.3 287.0L225.4 286.7L224.6 286.4L223.7 286.1L222.7 285.7L221.7 285.3L220.6 284.9L219.5 284.4L218.5 284.0L217.4 283.5L216.3 283.0L215.3 282.5L214.3 281.9L213.4 281.4L212.5 280.9L211.6 280.3L210.8 279.7L209.9 279.1L209.1 278.5L208.3 277.8L207.5 277.1L206.7 276.4L206.0 275.7L205.3 275.0L204.7 274.3L204.0 273.6L203.4 272.9L202.9 272.1L202.3 271.3L201.8 270.4L201.2 269.6L200.7 268.7L200.3 267.8L199.8 267.0L199.4 266.1L199.0 265.3L198.7 264.5L198.4 263.7L198.1 262.9L197.9 262.0L197.7 261.1L197.5 260.3L197.3 259.4L197.2 258.6L197.0 257.9L197.0 257.2L196.9 256.7L196.9 256.2L196.9 255.8L196.9 255.5L196.9 255.1L197.0 254.8L197.1 254.4L197.2 254.0L197.3 253.5L197.4 253.1L197.5 252.8L197.6 252.6L197.7 252.2L197.9 251.9L198.1 251.4L198.4 250.9L198.8 250.4L199.1 249.7L199.5 249.0L199.9 248.3" fill="none" stroke="#000" stroke-width="1.25" stroke-linejoin="round" stroke-dasharray="7 2.6"/>
<path d="M315.9 251.7L315.0 252.7L314.1 253.8L313.2 254.9L312.3 255.9L311.5 256.8L310.7 257.7L310.0 258.6L309.2 259.5L308.4 260.3L307.6 261.1L306.6 262.0L305.6 263.0L304.5 264.0L303.4 264.9L302.3 265.9L301.1 266.9L300.0 267.8L298.9 268.7L297.8 269.5L296.8 270.3L295.8 271.0L294.8 271.7L293.8 272.3L292.9 272.9L291.9 273.5L290.9 274.1L289.9 274.7L288.8 275.3L287.7 275.8L286.6 276.4L285.5 277.0L284.5 277.6L283.5 278.1L282.6 278.5L281.8 279.0L281.0 279.3L280.1 279.7L279.2 280.1L278.2 280.5L277.0 280.9L275.6 281.3L274.0 281.8L272.3 282.2L270.6 282.7L268.8 283.2L267.0 283.6L265.2 284.0L263.5 284.4L261.9 284.7L260.4 284.9L259.0 285.1L257.7 285.2L256.4 285.3L255.1 285.3L253.8 285.4L252.4 285.4L251.0 285.3L249.5 285.3L248.0 285.3L246.4 285.2L244.8 285.2L243.3 285.1L241.7 285.0L240.2 284.9L238.6 284.8L237.1 284.6L235.7 284.5L234.3 284.3L233.1 284.1L231.9 284.0L230.9 283.8L229.9 283.6L229.1 283.4L228.3 283.2L227.5 283.0L226.7 282.7L225.9 282.4L225.1 282.1L224.2 281.8L223.2 281.4L222.2 281.0L221.2 280.6L220.2 280.1L219.2 279.7L218.2 279.2L217.2 278.7L216.3 278.3L215.5 277.8L214.7 277.3L213.9 276.8L213.2 276.3L212.4 275.8L211.7 275.2L211.0 274.6L210.3 274.0L209.6 273.4L209.0 272.8L208.4 272.1L207.8 271.5L207.3 270.9L206.8 270.3L206.3 269.6L205.8 268.9L205.3 268.2L204.8 267.4L204.4 266.7L204.0 265.9L203.6 265.1L203.2 264.3L202.9 263.6L202.6 263.0L202.4 262.3L202.2 261.6L201.9 260.9L201.7 260.1L201.6 259.4L201.4 258.7L201.3 258.0L201.2 257.3L201.1 256.8L201.1 256.4L201.1 256.2L201.1 256.0L201.1 255.8L201.1 255.6L201.1 255.4L201.2 255.2L201.3 254.9L201.3 254.6L201.4 254.3L201.4 254.2L201.4 254.2L201.5 254.1L201.6 253.8L201.8 253.5L202.1 253.0L202.4 252.5L202.8 251.8L203.2 251.0L203.6 250.3" fill="none" stroke="#000" stroke-width="1.25" stroke-linejoin="round" stroke-dasharray="7.5 3"/>
<path d="M312.0 248.2L311.1 249.3L310.1 250.5L309.2 251.5L308.4 252.5L307.6 253.4L306.8 254.3L306.1 255.1L305.4 255.9L304.7 256.6L303.9 257.4L303.0 258.2L302.1 259.2L301.0 260.1L300.0 261.0L298.9 262.0L297.8 262.9L296.7 263.8L295.7 264.6L294.6 265.4L293.7 266.1L292.8 266.7L291.9 267.3L291.0 267.9L290.1 268.5L289.2 269.1L288.3 269.6L287.3 270.2L286.3 270.7L285.3 271.3L284.2 271.9L283.1 272.4L282.0 273.0L281.1 273.5L280.3 273.9L279.6 274.3L278.8 274.6L278.1 274.9L277.3 275.2L276.4 275.6L275.4 275.9L274.1 276.3L272.6 276.8L270.9 277.2L269.2 277.7L267.5 278.1L265.8 278.6L264.1 278.9L262.5 279.3L261.0 279.6L259.7 279.8L258.5 279.9L257.3 280.0L256.1 280.1L254.9 280.1L253.7 280.2L252.4 280.2L251.1 280.1L249.6 280.1L248.1 280.1L246.6 280.0L245.1 280.0L243.6 279.9L242.1 279.8L240.6 279.7L239.1 279.6L237.6 279.5L236.3 279.3L235.0 279.2L233.8 279.0L232.8 278.8L231.8 278.7L231.0 278.5L230.3 278.3L229.6 278.2L229.0 278.0L228.4 277.8L227.7 277.5L226.9 277.3L226.1 276.9L225.1 276.6L224.2 276.2L223.2 275.8L222.3 275.4L221.3 275.0L220.5 274.5L219.6 274.1L218.8 273.7L218.1 273.3L217.4 272.9L216.8 272.5L216.2 272.1L215.6 271.6L214.9 271.1L214.3 270.6L213.7 270.1L213.2 269.6L212.6 269.1L212.1 268.6L211.7 268.1L211.3 267.6L210.9 267.1L210.5 266.6L210.1 266.0L209.7 265.4L209.3 264.8L208.9 264.1L208.6 263.5L208.2 262.8L207.9 262.2L207.7 261.6L207.5 261.1L207.3 260.6L207.1 260.1L207.0 259.5L206.8 258.9L206.7 258.3L206.5 257.7L206.4 257.1L206.4 256.6L206.3 256.2L206.3 256.1L206.3 256.0L206.3 256.1L206.3 256.2L206.3 256.2L206.3 256.3L206.3 256.3L206.3 256.1L206.4 255.9L206.4 255.8L206.3 256.0L206.2 256.2L206.2 256.3L206.2 256.3L206.4 256.0L206.6 255.6L206.9 255.1L207.3 254.3L207.8 253.5L208.2 252.7" fill="none" stroke="#000" stroke-width="1.2" stroke-linejoin="round" stroke-dasharray="8 3.4"/>
<path d="M306.5 243.4L305.5 244.5L304.5 245.7L303.6 246.7L302.7 247.7L302.0 248.6L301.3 249.4L300.6 250.2L300.0 250.8L299.4 251.5L298.8 252.1L298.0 252.9L297.1 253.7L296.1 254.6L295.1 255.5L294.1 256.3L293.1 257.2L292.1 258.0L291.1 258.8L290.2 259.5L289.3 260.1L288.6 260.7L287.8 261.2L287.0 261.7L286.2 262.2L285.4 262.7L284.6 263.2L283.7 263.7L282.7 264.2L281.8 264.8L280.7 265.3L279.6 265.9L278.6 266.5L277.7 266.9L277.0 267.3L276.4 267.6L275.8 267.8L275.3 268.1L274.7 268.3L274.0 268.6L273.1 268.9L271.9 269.3L270.5 269.7L268.9 270.1L267.3 270.5L265.7 271.0L264.1 271.4L262.5 271.7L261.0 272.0L259.7 272.3L258.6 272.4L257.7 272.6L256.7 272.6L255.7 272.7L254.7 272.8L253.7 272.8L252.5 272.8L251.2 272.7L249.9 272.7L248.4 272.7L246.8 272.6L245.4 272.6L244.0 272.5L242.5 272.4L241.1 272.3L239.7 272.2L238.4 272.1L237.1 272.0L235.9 271.8L234.9 271.7L234.0 271.5L233.2 271.4L232.6 271.3L232.1 271.1L231.6 271.0L231.1 270.9L230.7 270.7L230.1 270.6L229.5 270.3L228.7 270.0L227.9 269.7L227.0 269.3L226.1 269.0L225.3 268.6L224.5 268.2L223.7 267.9L223.0 267.5L222.3 267.2L221.8 266.9L221.3 266.6L220.9 266.4L220.5 266.0L220.0 265.7L219.5 265.3L219.1 264.9L218.6 264.6L218.2 264.2L217.9 263.8L217.5 263.5L217.2 263.1L216.9 262.8L216.7 262.6L216.5 262.2L216.2 261.9L215.9 261.4L215.7 261.0L215.4 260.5L215.1 260.0L214.9 259.5L214.6 259.1L214.5 258.7L214.4 258.5L214.3 258.2L214.2 257.9L214.1 257.5L214.0 257.1L213.9 256.7L213.8 256.3L213.7 255.9L213.7 255.6L213.7 255.4L213.7 255.6L213.7 255.9L213.7 256.3L213.7 256.7L213.6 257.1L213.6 257.5L213.5 257.7L213.5 257.8L213.5 257.8L213.5 257.9L213.3 258.5L213.0 259.1L212.9 259.5L212.8 259.7L212.8 259.6L213.0 259.3L213.3 258.8L213.8 258.0L214.3 257.0L214.8 256.1" fill="none" stroke="#000" stroke-width="0.85" stroke-linejoin="round" stroke-dasharray="10 4.5"/>
<path d="M337.7 214.4L337.4 215.5L337.2 216.6L337.0 217.7L336.8 218.7L336.6 219.8L336.4 220.9L336.2 222.0L335.9 223.0L335.7 224.1L335.4 225.2L335.1 226.3L334.8 227.5L334.4 228.6L334.1 229.8L333.7 231.0L333.3 232.2L332.9 233.4L332.6 234.6L332.2 235.8L331.8 237.0L331.4 238.2L331.0 239.5L330.6 240.7L330.2 242.0L329.8 243.2L329.4 244.4L329.0 245.5L328.6 246.6L328.2 247.6L327.7 248.6L327.3 249.5L326.8 250.4L326.2 251.2L325.7 252.1L325.1 252.9L324.4 253.8L323.8 254.6L323.2 255.5L322.5 256.5L321.9 257.4" fill="none" stroke="#000" stroke-width="1.0" stroke-linejoin="round" stroke-dasharray="4 2"/>
<path d="M335.1 213.8L334.9 215.0L334.7 216.1L334.5 217.2L334.3 218.3L334.0 219.3L333.8 220.4L333.6 221.4L333.4 222.5L333.2 223.5L332.9 224.5L332.6 225.6L332.3 226.7L332.0 227.9L331.6 229.0L331.2 230.2L330.9 231.4L330.5 232.6L330.1 233.8L329.7 235.0L329.3 236.2L328.9 237.5L328.5 238.7L328.1 240.0L327.7 241.2L327.3 242.4L327.0 243.5L326.6 244.6L326.2 245.6L325.8 246.6L325.4 247.5L325.0 248.3L324.5 249.0L324.0 249.8L323.5 250.6L322.9 251.4L322.3 252.2L321.7 253.1L321.0 254.0L320.4 255.0L319.7 255.9" fill="none" stroke="#000" stroke-width="1.0" stroke-linejoin="round" stroke-dasharray="4.5 2.2"/>
<path d="M332.8 213.4L332.5 214.5L332.3 215.6L332.1 216.7L331.9 217.8L331.7 218.9L331.5 219.9L331.3 220.9L331.1 221.9L330.8 222.9L330.6 223.9L330.3 225.0L330.0 226.1L329.7 227.2L329.3 228.3L328.9 229.5L328.6 230.7L328.2 231.8L327.8 233.0L327.4 234.2L327.0 235.5L326.6 236.7L326.2 238.0L325.8 239.3L325.4 240.5L325.1 241.6L324.7 242.7L324.3 243.8L323.9 244.8L323.6 245.6L323.2 246.4L322.9 247.1L322.5 247.8L322.0 248.5L321.5 249.2L321.0 250.0L320.4 250.8L319.8 251.7L319.1 252.6L318.4 253.6L317.7 254.6" fill="none" stroke="#000" stroke-width="1.0" stroke-linejoin="round" stroke-dasharray="4 2.5"/>
<path d="M330.0 212.8L329.8 213.9L329.6 215.1L329.4 216.2L329.1 217.3L328.9 218.3L328.7 219.3L328.5 220.3L328.3 221.3L328.1 222.3L327.9 223.2L327.6 224.2L327.3 225.3L327.0 226.4L326.6 227.5L326.3 228.6L325.9 229.8L325.5 231.0L325.1 232.2L324.7 233.4L324.3 234.6L323.9 235.9L323.5 237.2L323.1 238.4L322.8 239.6L322.4 240.8L322.0 241.8L321.7 242.8L321.3 243.7L321.0 244.5L320.7 245.2L320.4 245.8L320.1 246.4L319.7 247.0L319.2 247.7L318.7 248.4L318.1 249.2L317.5 250.0L316.8 251.0L316.1 252.0L315.4 253.0" fill="none" stroke="#000" stroke-width="1.0" stroke-linejoin="round" stroke-dasharray="3.5 3"/>
<path d="M164.4 145.8L163.8 146.0L163.2 146.1L162.6 146.2L161.9 146.3L161.3 146.4L160.7 146.5L160.0 146.7L159.3 146.9L158.7 147.1L157.9 147.4L157.2 147.8L156.5 148.1L155.8 148.5L155.0 149.0L154.2 149.5L153.5 150.0L152.7 150.5L152.0 151.1L151.2 151.8L150.5 152.4L149.8 153.1L149.1 153.9L148.4 154.7L147.7 155.5L147.1 156.3L146.4 157.2L145.8 158.1L145.2 158.9L144.7 159.8L144.1 160.6L143.6 161.5L143.1 162.3L142.7 163.1L142.3 163.9L141.8 164.7L141.4 165.6L141.0 166.4L140.6 167.3L140.2 168.2L139.8 169.1L139.4 170.1L139.0 171.1L138.6 172.1L138.2 173.2L137.8 174.3L137.4 175.4L137.1 176.5L136.7 177.5L136.4 178.6L136.1 179.7L135.8 180.7L135.6 181.7L135.4 182.8L135.2 183.8L135.0 184.8L134.9 185.8L134.7 186.8L134.6 187.8L134.5 188.8L134.4 189.9L134.2 190.9L134.1 192.0L134.1 193.1L134.0 194.2L133.9 195.4L133.9 196.5L133.8 197.6L133.8 198.8L133.8 199.9L133.8 201.0L133.8 202.1L133.8 203.2L133.8 204.4L133.8 205.5L133.9 206.6L133.9 207.7L134.0 208.9L134.1 210.0L134.2 211.1L134.4 212.2L134.5 213.3L134.7 214.3L134.9 215.4L135.2 216.4L135.4 217.4L135.7 218.5L136.0 219.5L136.3 220.5L136.6 221.5L136.9 222.6L137.3 223.7L137.6 224.7L138.0 225.8L138.5 226.9L138.9 227.9L139.3 229.0L139.8 230.1L140.3 231.2L140.8 232.3L141.3 233.3L141.8 234.4L142.3 235.5L142.8 236.6L143.4 237.7L144.0 238.8L144.6 239.9L145.3 240.9L145.9 242.0L146.6 243.1L147.4 244.1L148.1 245.2L148.9 246.3L149.7 247.4L150.6 248.5L151.4 249.6L152.3 250.6L153.2 251.7L154.1 252.6L154.9 253.6L155.8 254.4L156.7 255.2L157.5 255.8L158.4 256.4L159.2 257.0L160.1 257.5L160.9 258.0L161.8 258.4L162.6 258.9L163.5 259.4L164.3 259.9L164.7 259.3L163.9 258.7L163.0 258.2L162.2 257.7L161.4 257.2L160.6 256.7L159.8 256.2L159.0 255.6L158.2 255.0L157.4 254.3L156.6 253.6L155.8 252.7L155.0 251.8L154.2 250.8L153.4 249.8L152.6 248.7L151.9 247.5L151.1 246.4L150.4 245.3L149.7 244.1L149.0 243.1L148.4 242.0L147.8 240.9L147.2 239.8L146.7 238.7L146.2 237.6L145.6 236.6L145.1 235.5L144.6 234.4L144.0 233.3L143.5 232.3L143.0 231.2L142.6 230.1L142.1 229.1L141.6 228.0L141.2 227.0L140.8 225.9L140.4 224.9L140.0 223.9L139.6 222.8L139.3 221.8L139.0 220.8L138.7 219.8L138.4 218.8L138.1 217.8L137.8 216.8L137.6 215.8L137.4 214.8L137.2 213.9L137.0 212.8L136.8 211.8L136.7 210.8L136.6 209.7L136.5 208.7L136.4 207.6L136.4 206.5L136.3 205.4L136.3 204.3L136.3 203.2L136.3 202.1L136.2 201.0L136.3 199.9L136.3 198.8L136.3 197.7L136.3 196.6L136.4 195.5L136.5 194.4L136.5 193.3L136.6 192.2L136.7 191.2L136.8 190.1L137.0 189.1L137.1 188.1L137.2 187.1L137.3 186.1L137.5 185.2L137.7 184.2L137.8 183.2L138.0 182.3L138.3 181.3L138.5 180.3L138.8 179.3L139.1 178.3L139.4 177.2L139.8 176.2L140.2 175.1L140.6 174.1L141.0 173.0L141.4 172.0L141.8 171.0L142.2 170.1L142.5 169.2L142.9 168.3L143.3 167.5L143.7 166.7L144.1 165.9L144.5 165.1L144.9 164.3L145.3 163.5L145.8 162.8L146.3 162.0L146.8 161.1L147.3 160.3L147.9 159.5L148.5 158.6L149.1 157.8L149.7 157.0L150.3 156.2L150.9 155.4L151.5 154.7L152.1 154.0L152.7 153.4L153.4 152.7L154.0 152.2L154.7 151.6L155.4 151.1L156.0 150.5L156.7 150.1L157.4 149.6L158.0 149.2L158.7 148.8L159.2 148.4L159.8 148.2L160.4 147.9L161.0 147.7L161.6 147.5L162.2 147.3L162.8 147.2L163.4 147.0L164.0 146.8L164.6 146.6Z" fill="#000" stroke="#000" stroke-width="0.3" stroke-linejoin="round"/>
<path d="M169.5 147.3L168.9 147.6L168.2 147.8L167.6 148.1L166.9 148.4L166.2 148.6L165.6 148.9L164.9 149.2L164.2 149.6L163.5 150.0L162.8 150.4L162.1 150.9L161.5 151.4L160.8 151.9L160.1 152.5L159.5 153.1L158.9 153.8L158.2 154.4L157.6 155.1L157.0 155.8L156.4 156.5L155.9 157.3L155.3 158.0L154.7 158.8L154.2 159.6L153.7 160.5L153.2 161.3L152.7 162.2L152.2 163.1L151.7 163.9L151.3 164.8L150.9 165.7L150.5 166.7L150.1 167.7L149.8 168.6L149.5 169.6L149.2 170.6L148.9 171.5L148.6 172.4L148.4 173.3L148.1 174.1L147.9 174.8L147.7 175.5L147.5 176.2L147.3 176.8L147.2 177.4L147.0 178.0L146.8 178.7L146.7 179.3L146.6 180.0L146.4 180.8L146.3 181.6L146.1 182.4L146.0 183.3L145.8 184.2L145.7 185.1L145.5 186.0L145.4 186.9L145.3 187.9L145.2 188.9L145.1 189.9L145.0 190.9L144.9 192.0L144.8 193.1L144.8 194.2L144.7 195.3L144.7 196.5L144.6 197.6L144.6 198.7L144.6 199.9L144.6 201.0L144.6 202.1L144.6 203.2L144.6 204.3L144.6 205.5L144.7 206.6L144.7 207.7L144.8 208.8L144.9 209.9L145.0 211.0L145.1 212.1L145.2 213.2L145.4 214.3L145.5 215.3L145.7 216.3L145.9 217.4L146.1 218.4L146.3 219.4L146.6 220.4L146.8 221.5L147.1 222.5L147.4 223.5L147.7 224.6L148.0 225.6L148.4 226.6L148.7 227.6L149.1 228.6L149.5 229.6L149.9 230.7L150.3 231.7L150.7 232.8L151.2 233.8L151.7 234.9L152.2 236.1L152.8 237.2L153.3 238.4L153.9 239.5L154.5 240.6L155.0 241.7L155.6 242.8L156.3 243.7L156.9 244.6L157.6 245.4L158.2 246.2L158.9 246.9L159.6 247.6L160.2 248.3L160.9 248.9L161.5 249.5L162.1 250.1L162.7 250.7L163.3 251.2L163.9 251.7L164.5 252.2L165.0 252.6L165.6 253.0L166.1 253.4L166.6 253.8L167.2 254.1L167.7 254.5L168.2 254.9L168.8 254.3L168.3 253.8L167.7 253.4L167.2 253.0L166.7 252.6L166.2 252.1L165.7 251.7L165.2 251.3L164.7 250.8L164.2 250.3L163.7 249.7L163.1 249.1L162.5 248.5L162.0 247.9L161.4 247.2L160.8 246.5L160.3 245.8L159.7 245.0L159.2 244.2L158.6 243.4L158.1 242.5L157.6 241.6L157.1 240.6L156.5 239.6L155.9 238.5L155.4 237.4L154.8 236.3L154.3 235.1L153.8 234.0L153.3 232.9L152.9 231.8L152.4 230.8L152.0 229.8L151.6 228.8L151.2 227.8L150.9 226.8L150.5 225.8L150.2 224.9L149.9 223.9L149.6 222.9L149.3 221.9L149.0 220.9L148.8 219.9L148.5 218.9L148.3 217.9L148.1 216.9L147.9 215.9L147.8 214.9L147.6 213.9L147.5 212.9L147.3 211.9L147.2 210.8L147.1 209.8L147.0 208.7L147.0 207.6L146.9 206.5L146.9 205.4L146.9 204.3L146.8 203.2L146.8 202.1L146.8 201.0L146.8 199.9L146.8 198.8L146.9 197.7L146.9 196.5L147.0 195.4L147.0 194.3L147.1 193.2L147.2 192.2L147.2 191.1L147.3 190.1L147.4 189.1L147.5 188.2L147.6 187.2L147.8 186.3L147.9 185.4L148.0 184.5L148.2 183.6L148.3 182.8L148.4 182.0L148.6 181.2L148.7 180.5L148.9 179.8L149.0 179.2L149.2 178.6L149.3 178.0L149.5 177.4L149.6 176.8L149.8 176.2L150.0 175.5L150.3 174.7L150.5 173.9L150.8 173.0L151.0 172.1L151.3 171.2L151.6 170.3L151.9 169.3L152.2 168.4L152.6 167.5L152.9 166.6L153.3 165.8L153.7 164.9L154.1 164.1L154.6 163.3L155.1 162.4L155.6 161.6L156.1 160.8L156.6 160.1L157.1 159.3L157.6 158.6L158.2 157.9L158.7 157.2L159.3 156.6L159.8 155.9L160.4 155.3L161.0 154.7L161.6 154.1L162.2 153.6L162.8 153.0L163.4 152.5L164.0 152.0L164.5 151.5L165.1 151.1L165.7 150.7L166.3 150.4L166.9 150.0L167.5 149.7L168.2 149.4L168.8 149.0L169.4 148.7L170.1 148.3Z" fill="#000" stroke="#000" stroke-width="0.3" stroke-linejoin="round"/>
<path d="M176.0 152.5L176.8 152.5L177.6 153.1L178.5 153.9L179.1 155.0L179.5 156.0L179.5 157.1L179.2 158.4L178.7 159.8L178.1 161.2L177.5 162.5L176.9 163.7L176.2 164.9L175.5 166.1L174.8 167.3L174.2 168.5L173.6 169.8L173.1 171.0L172.6 172.3L172.1 173.7L171.6 175.0L171.2 176.5L170.8 178.1L170.4 179.7L170.0 181.0L169.6 182.0L169.1 182.6L168.5 182.9L168.0 182.9L167.6 182.6L167.3 182.0L167.3 180.9L167.4 179.4L167.6 177.6L167.9 175.7L168.2 174.0L168.5 172.4L168.9 170.8L169.3 169.2L169.7 167.6L170.2 166.0L170.7 164.4L171.2 162.9L171.7 161.4L172.2 159.9L172.8 158.5L173.4 157.1L174.0 155.5L174.7 154.1L175.3 153.1Z" fill="url(#dots2)" stroke="#000" stroke-width="0.7"/>
<path d="M167.4 224.0L167.7 223.4L168.2 223.1L168.8 223.1L169.3 223.4L169.8 224.0L170.2 225.0L170.4 226.3L170.7 227.9L171.0 229.5L171.4 231.0L171.8 232.3L172.3 233.7L172.8 235.0L173.4 236.3L174.0 237.5L174.7 238.7L175.4 239.7L176.2 240.8L176.9 241.9L177.5 243.0L178.0 244.2L178.5 245.6L178.9 246.9L179.1 248.0L179.0 249.0L178.6 249.8L177.9 250.4L177.1 250.9L176.2 251.1L175.5 251.0L174.9 250.5L174.3 249.6L173.7 248.4L173.1 247.2L172.5 246.0L171.9 244.8L171.3 243.6L170.7 242.3L170.1 240.9L169.6 239.5L169.2 238.0L168.8 236.4L168.5 234.7L168.2 233.1L168.0 231.5L167.8 229.8L167.5 228.1L167.4 226.4L167.3 225.0Z" fill="url(#dots2)" stroke="#000" stroke-width="0.7"/>
<clipPath id="cz1"><path d="M181.0 141.4L184.2 144.6L187.6 149.0L190.8 153.4L194.2 157.0L196.6 159.0L192.4 159.8L187.2 160.8L181.8 162.8L176.8 166.4L175.4 162.0L177.0 154.0L179.0 147.0Z"/></clipPath>
<path d="M181.0 141.4L184.2 144.6L187.6 149.0L190.8 153.4L194.2 157.0L196.6 159.0L192.4 159.8L187.2 160.8L181.8 162.8L176.8 166.4L175.4 162.0L177.0 154.0L179.0 147.0Z" fill="#fff" stroke="none"/>
<path d="M182.5 128.0 L163.3 184.0M182.5 128.0 L167.2 184.0M182.5 128.0 L171.0 184.0M182.5 128.0 L174.9 184.0M182.5 128.0 L178.8 184.0M182.5 128.0 L182.6 184.0M182.5 128.0 L186.5 184.0M182.5 128.0 L190.4 184.0M182.5 128.0 L194.2 184.0M182.5 128.0 L198.1 184.0M182.5 128.0 L202.0 184.0M182.5 128.0 L205.8 184.0M182.5 128.0 L209.7 184.0" fill="none" stroke="#000" stroke-width="0.9" clip-path="url(#cz1)"/>
<path d="M181.0 141.4L184.2 144.6L187.6 149.0L190.8 153.4L194.2 157.0L196.6 159.0L192.4 159.8L187.2 160.8L181.8 162.8L176.8 166.4L175.4 162.0L177.0 154.0L179.0 147.0Z" fill="none" stroke="#000" stroke-width="0.8" stroke-linejoin="round"/>
<clipPath id="cz2"><path d="M172.6 240.2L176.5 240.6L181.0 242.4L187.0 243.2L193.0 241.6L197.6 238.6L195.0 245.5L191.6 251.5L189.2 255.2L186.2 252.4L183.8 253.6L181.0 257.4L177.5 254.4L174.8 247.5Z"/></clipPath>
<path d="M172.6 240.2L176.5 240.6L181.0 242.4L187.0 243.2L193.0 241.6L197.6 238.6L195.0 245.5L191.6 251.5L189.2 255.2L186.2 252.4L183.8 253.6L181.0 257.4L177.5 254.4L174.8 247.5Z" fill="#fff" stroke="none"/>
<path d="M185.0 285.0 L157.0 214.6M185.0 285.0 L161.4 214.6M185.0 285.0 L165.7 214.6M185.0 285.0 L170.1 214.6M185.0 285.0 L174.5 214.6M185.0 285.0 L178.8 214.6M185.0 285.0 L183.2 214.6M185.0 285.0 L187.6 214.6M185.0 285.0 L192.0 214.6M185.0 285.0 L196.3 214.6M185.0 285.0 L200.7 214.6M185.0 285.0 L205.1 214.6M185.0 285.0 L209.4 214.6M185.0 285.0 L213.8 214.6" fill="none" stroke="#000" stroke-width="0.9" clip-path="url(#cz2)"/>
<path d="M172.6 240.2L176.5 240.6L181.0 242.4L187.0 243.2L193.0 241.6L197.6 238.6L195.0 245.5L191.6 251.5L189.2 255.2L186.2 252.4L183.8 253.6L181.0 257.4L177.5 254.4L174.8 247.5Z" fill="none" stroke="#000" stroke-width="0.8" stroke-linejoin="round"/>
<path d="M196.6 157.7L196.1 157.8L195.7 157.9L195.3 158.0L194.8 158.1L194.4 158.2L194.0 158.3L193.5 158.4L193.1 158.5L192.6 158.6L192.2 158.7L191.7 158.7L191.2 158.8L190.7 158.9L190.2 159.0L189.7 159.1L189.1 159.1L188.6 159.2L188.0 159.3L187.4 159.5L186.9 159.6L186.3 159.8L185.8 159.9L185.2 160.1L184.6 160.3L184.1 160.4L183.5 160.7L182.9 160.9L182.3 161.1L181.8 161.4L181.2 161.7L180.6 162.0L180.1 162.3L179.6 162.7L179.0 163.1L178.5 163.4L177.9 163.9L177.4 164.3L176.9 164.8L176.4 165.2L175.9 165.8L175.4 166.3L174.9 166.9L174.5 167.5L174.1 168.1L173.7 168.7L173.3 169.3L172.9 170.0L172.5 170.7L172.1 171.4L171.8 172.0L171.4 172.7L171.1 173.4L170.8 174.1L170.5 174.8L170.2 175.5L170.0 176.3L169.7 177.1L169.4 177.9L169.2 178.8L169.0 179.7L168.8 180.7L168.6 181.7L168.4 182.8L168.2 184.0L168.0 185.1L167.9 186.3L167.7 187.4L167.6 188.6L167.5 189.8L167.4 190.9L167.3 192.0L167.2 193.1L167.1 194.3L167.1 195.4L167.0 196.5L167.0 197.6L167.0 198.8L167.0 199.8L167.0 200.9L167.0 202.0L166.9 203.0L167.0 204.1L167.0 205.1L167.0 206.1L167.0 207.1L167.0 208.1L167.1 209.1L167.1 210.1L167.2 211.1L167.3 212.1L167.3 213.1L167.4 214.1L167.5 215.1L167.5 216.2L167.6 217.2L167.7 218.3L167.9 219.3L168.0 220.3L168.2 221.4L168.4 222.4L168.6 223.5L168.8 224.6L169.1 225.7L169.4 226.7L169.7 227.8L170.0 228.9L170.3 230.0L170.7 231.0L171.1 231.9L171.5 232.8L171.9 233.7L172.4 234.5L172.9 235.3L173.4 236.0L173.9 236.7L174.4 237.3L175.0 237.9L175.5 238.5L176.1 239.0L176.7 239.6L177.3 240.1L178.0 240.5L178.6 240.9L179.3 241.3L180.0 241.6L180.7 241.9L181.3 242.1L181.9 242.4L182.5 242.6L183.1 242.8L183.7 243.0L184.2 243.1L184.8 243.2L185.3 243.3L185.8 243.3L186.2 243.3L186.6 243.3L187.0 243.4L187.4 243.4L187.9 243.4L188.1 241.0L187.7 240.9L187.2 240.9L186.8 240.8L186.3 240.8L185.9 240.8L185.5 240.8L185.1 240.7L184.8 240.7L184.3 240.6L183.9 240.4L183.4 240.2L182.8 240.0L182.2 239.8L181.6 239.6L181.0 239.3L180.5 239.0L179.9 238.7L179.3 238.4L178.8 238.0L178.3 237.6L177.8 237.2L177.3 236.7L176.8 236.2L176.3 235.7L175.8 235.1L175.4 234.5L174.9 233.9L174.5 233.2L174.1 232.5L173.7 231.8L173.4 231.0L173.0 230.1L172.7 229.1L172.4 228.2L172.1 227.2L171.8 226.1L171.5 225.1L171.3 224.0L171.0 223.0L170.8 222.0L170.6 221.0L170.5 220.0L170.3 219.0L170.2 218.0L170.1 217.0L170.0 216.0L170.0 215.0L169.9 213.9L169.8 212.9L169.7 211.9L169.7 210.9L169.6 209.9L169.6 209.0L169.5 208.0L169.5 207.0L169.5 206.0L169.5 205.0L169.5 204.1L169.4 203.0L169.4 202.0L169.5 200.9L169.5 199.9L169.5 198.8L169.5 197.7L169.5 196.6L169.6 195.5L169.6 194.4L169.7 193.3L169.8 192.2L169.8 191.1L170.0 190.0L170.1 188.9L170.2 187.7L170.3 186.6L170.5 185.4L170.7 184.3L170.8 183.2L171.0 182.2L171.2 181.2L171.4 180.3L171.6 179.4L171.9 178.6L172.1 177.8L172.3 177.1L172.6 176.4L172.8 175.8L173.1 175.1L173.4 174.5L173.7 173.8L174.0 173.2L174.3 172.5L174.7 171.9L175.0 171.2L175.4 170.6L175.8 170.1L176.1 169.5L176.5 168.9L176.9 168.4L177.3 167.9L177.7 167.4L178.1 167.0L178.6 166.6L179.0 166.2L179.5 165.8L179.9 165.5L180.4 165.1L180.9 164.8L181.4 164.5L181.9 164.2L182.4 163.9L182.9 163.6L183.4 163.4L183.9 163.2L184.4 163.0L184.9 162.8L185.4 162.6L185.9 162.5L186.5 162.3L187.0 162.1L187.5 162.0L188.0 161.9L188.5 161.7L189.0 161.6L189.5 161.5L190.1 161.4L190.6 161.3L191.1 161.2L191.6 161.1L192.1 161.0L192.6 160.9L193.1 160.8L193.6 160.7L194.0 160.6L194.5 160.5L194.9 160.4L195.3 160.3L195.8 160.2L196.2 160.1L196.6 160.0L197.0 159.9Z" fill="#000" stroke="#000" stroke-width="0.3" stroke-linejoin="round"/>
<path d="M192.5 154.1L192.9 154.6L193.3 155.1L193.7 155.6L194.1 156.0L194.4 156.5L194.8 156.9L195.2 157.4L195.6 157.9L196.0 158.5L196.5 159.2L197.0 160.0L197.5 160.9L198.1 161.8L198.7 162.7L199.4 163.7L200.0 164.8L200.6 165.8L201.2 166.8L201.7 167.9L202.2 168.9L202.7 170.0L203.2 171.1L203.6 172.2L204.0 173.4L204.4 174.6L204.8 175.8L205.2 177.0L205.6 178.2L206.0 179.4L206.4 180.5L206.8 181.6L207.2 182.7L207.6 183.7L208.0 184.8L208.4 185.8L208.7 186.7L209.1 187.7L209.4 188.6L209.7 189.5L210.0 190.4L210.2 191.3L210.4 192.1L210.6 192.9L210.7 193.7L210.9 194.4L211.0 195.2L211.1 195.9L211.2 196.7L211.2 197.4L211.3 198.1L211.4 198.8L211.4 199.5L211.4 200.2L211.4 200.9L211.4 201.5L211.4 202.2L211.4 202.8L211.4 203.5L211.3 204.1L211.2 204.8L211.1 205.5L211.0 206.2L210.9 206.9L210.8 207.5L210.6 208.2L210.4 209.0L210.2 209.7L210.0 210.5L209.8 211.3L209.6 212.1L209.3 213.0L209.1 213.9L208.8 214.8L208.5 215.8L208.2 216.7L207.9 217.7L207.6 218.7L207.2 219.7L206.8 220.7L206.4 221.6L206.0 222.6L205.6 223.7L205.2 224.7L204.7 225.8L204.2 226.8L203.7 227.8L203.2 228.8L202.7 229.8L202.1 230.7L201.6 231.5L201.0 232.3L200.4 233.1L199.8 233.8L199.2 234.6L198.5 235.3L197.8 235.9L197.2 236.6L196.5 237.2L195.9 237.7L195.3 238.2L194.8 238.6L194.2 239.0L193.7 239.3L193.2 239.5L192.6 239.8L192.1 240.0L191.6 240.2L191.1 240.4L190.6 240.5L190.2 240.7L189.8 240.8L189.5 240.8L189.3 240.8L189.0 240.9L188.7 240.9L188.4 240.8L188.1 240.8L187.7 240.8L187.4 240.8L187.0 240.8L187.0 243.6L187.4 243.6L187.6 243.6L187.9 243.6L188.3 243.6L188.6 243.7L189.0 243.7L189.5 243.6L190.0 243.6L190.5 243.5L191.0 243.3L191.5 243.2L192.0 243.0L192.6 242.8L193.2 242.6L193.8 242.4L194.4 242.1L195.1 241.7L195.7 241.4L196.4 240.9L197.1 240.4L197.7 239.9L198.4 239.3L199.1 238.7L199.8 238.0L200.6 237.3L201.3 236.5L202.0 235.7L202.7 234.9L203.4 234.0L204.0 233.1L204.6 232.2L205.2 231.2L205.7 230.2L206.3 229.1L206.8 228.0L207.3 227.0L207.8 225.9L208.3 224.8L208.7 223.8L209.2 222.8L209.6 221.7L210.0 220.7L210.3 219.7L210.7 218.6L211.0 217.6L211.3 216.6L211.6 215.7L211.9 214.7L212.2 213.8L212.4 212.9L212.7 212.1L212.9 211.2L213.1 210.4L213.3 209.7L213.5 208.9L213.7 208.2L213.8 207.4L214.0 206.7L214.1 205.9L214.2 205.2L214.3 204.4L214.3 203.7L214.4 203.0L214.4 202.3L214.4 201.6L214.4 200.8L214.4 200.1L214.4 199.4L214.4 198.6L214.3 197.9L214.2 197.1L214.1 196.3L214.0 195.5L213.9 194.7L213.8 193.9L213.7 193.1L213.5 192.3L213.3 191.4L213.1 190.5L212.8 189.6L212.6 188.6L212.3 187.7L211.9 186.7L211.6 185.7L211.2 184.7L210.8 183.7L210.4 182.7L210.0 181.6L209.6 180.6L209.2 179.5L208.8 178.4L208.4 177.3L208.1 176.1L207.7 174.9L207.3 173.7L206.8 172.4L206.4 171.2L206.0 170.0L205.5 168.8L205.0 167.7L204.4 166.5L203.8 165.4L203.2 164.3L202.6 163.2L201.9 162.2L201.3 161.1L200.6 160.2L200.0 159.2L199.5 158.4L198.9 157.6L198.5 156.8L198.0 156.2L197.6 155.6L197.1 155.1L196.7 154.6L196.4 154.1L196.0 153.7L195.6 153.2L195.3 152.8L194.9 152.3Z" fill="#000" stroke="#000" stroke-width="0.3" stroke-linejoin="round"/>
<path d="M203.4 168.4L203.9 169.5L204.4 170.6L204.8 171.8L205.2 173.0L205.7 174.2L206.1 175.4L206.4 176.6L206.8 177.8L207.2 179.0L207.6 180.1L208.0 181.1L208.4 182.2L208.8 183.3L209.2 184.3L209.6 185.3L210.0 186.3L210.3 187.3L210.6 188.2L210.9 189.1L211.2 190.1L211.4 190.9L211.6 191.8L211.8 192.6L212.0 193.4L212.1 194.2L212.3 195.0L212.4 195.8L212.5 196.5L212.5 197.3L212.6 198.0L212.7 198.8L212.7 199.5L212.7 200.2L212.7 200.8L212.7 201.5L212.7 202.2L212.7 202.9L212.6 203.6L212.6 204.3L212.5 205.0L212.4 205.7L212.3 206.4L212.2 207.1L212.0 207.8L211.8 208.5L211.7 209.3L211.5 210.0L211.3 210.8L211.0 211.6L210.8 212.4L210.6 213.3L210.3 214.2L210.0 215.2L209.7 216.1L209.4 217.1L209.1 218.1L208.8 219.1L208.4 220.1L208.0 221.1L207.6 222.1L207.2 223.1L206.8 224.2L206.3 225.2L205.8 226.3L205.3 227.3L204.8 228.4L204.3 229.4L203.8 230.4L203.2 231.3L202.6 232.2L202.0 233.0L201.4 233.8L200.8 234.6L200.1 235.4L199.4 236.1L198.7 236.8L198.0 237.5L197.3 238.1L196.7 238.6L196.1 239.1L195.5 239.6L194.9 240.0L194.3 240.3L193.7 240.6L193.1 240.9L192.6 241.1" fill="none" stroke="#fff" stroke-width="0.35" stroke-linejoin="round" />
<path d="M315.5 170.4L315.8 171.6L316.0 172.9L316.3 174.1L316.5 175.4L316.8 176.6L317.0 177.9L317.2 179.1L317.4 180.3L317.6 181.6L317.8 182.9L318.0 184.1L318.2 185.4L318.3 186.7L318.5 187.9L318.6 189.2L318.8 190.5L318.9 191.7L319.0 193.0L319.1 194.2L319.2 195.5L319.3 196.8L319.4 198.1L319.5 199.3L319.7 200.6L319.8 201.8L320.0 203.0L320.2 204.1L320.3 205.2L320.5 206.4L320.7 207.6L320.9 208.8L321.2 210.0L321.5 211.4L321.9 212.7L322.2 214.1L322.6 215.6L323.0 217.0L323.5 218.4L323.9 219.7L324.3 221.0L324.7 222.2L325.1 223.3L325.6 224.4L326.0 225.5L326.5 226.5L327.0 227.5L327.5 228.6L328.0 229.6L328.5 230.7L329.0 231.7L329.6 232.7L330.2 233.7L330.7 234.7L331.3 235.7L331.8 236.6L332.4 237.6L336.6 235.4L336.2 234.4L335.7 233.3L335.2 232.3L334.7 231.3L334.2 230.4L333.7 229.4L333.3 228.4L332.8 227.4L332.4 226.4L332.0 225.4L331.6 224.4L331.3 223.4L330.9 222.3L330.5 221.3L330.2 220.2L329.7 219.0L329.3 217.8L328.8 216.6L328.3 215.2L327.8 213.9L327.3 212.6L326.8 211.3L326.4 210.0L326.0 208.8L325.7 207.6L325.4 206.5L325.1 205.5L324.9 204.4L324.7 203.3L324.5 202.3L324.3 201.2L324.1 200.0L324.0 198.8L323.8 197.6L323.7 196.4L323.6 195.1L323.4 193.9L323.3 192.6L323.2 191.3L323.0 189.9L322.8 188.7L322.7 187.4L322.5 186.1L322.3 184.8L322.1 183.5L321.8 182.2L321.6 180.9L321.4 179.7L321.1 178.4L320.9 177.1L320.6 175.8L320.3 174.6L320.1 173.3L319.8 172.1L319.5 170.9L319.3 169.6Z" fill="#000" stroke="#000" stroke-width="0.3" stroke-linejoin="round"/>
<path d="M269.0 141.8L269.6 141.9L270.3 142.0L270.9 142.0L271.6 142.0L272.2 142.1L272.8 142.2L273.3 142.3L273.8 142.5L274.3 142.7L274.7 143.0L275.1 143.3L275.5 143.7L275.9 144.1L276.2 144.5L276.6 145.0L276.9 145.4L277.1 145.9L277.4 146.5L277.6 147.1L277.7 147.8L277.9 148.5L278.2 149.2L278.5 149.9L278.8 150.5L279.2 151.1L279.6 151.6L280.1 152.1L280.5 152.5L281.1 152.9L281.6 153.3L282.2 153.6L282.8 153.8L283.5 153.8L284.2 153.8L284.8 153.6L285.4 153.4L285.9 153.2L286.4 152.9L286.9 152.8L287.3 152.6L287.8 152.5L288.3 152.3L288.7 152.1L289.1 152.0L289.4 151.8L289.8 151.8L290.1 151.7L290.4 151.7L290.9 151.8L291.4 151.9L291.9 152.0L292.4 152.1L292.9 152.3L293.5 152.6L294.0 152.9L294.5 153.2L295.0 153.6L295.5 154.1L296.1 154.8L296.6 155.5L297.3 156.2L297.9 157.0L298.6 157.7L299.4 158.4L300.2 158.9L301.0 159.4L301.8 159.8L302.6 160.1L303.4 160.5L304.1 160.8L304.9 161.2L305.7 161.6L306.5 162.0L307.4 162.5L308.3 163.0L309.2 163.4L310.1 163.9L310.9 164.4L311.7 165.0L312.3 165.5L312.9 166.0L313.4 166.6L313.9 167.2L314.4 167.9L314.8 168.6L315.2 169.2L315.6 170.0L315.9 170.7L316.1 171.4L316.4 172.1L316.5 172.9L316.7 173.7L316.8 174.6L316.9 175.5L317.1 176.4L317.3 177.4L320.7 176.6L320.5 175.8L320.4 174.9L320.2 174.0L320.0 173.1L319.8 172.2L319.6 171.2L319.3 170.3L318.9 169.3L318.5 168.5L318.0 167.6L317.5 166.8L317.0 166.0L316.4 165.3L315.8 164.5L315.1 163.8L314.3 163.1L313.5 162.5L312.5 161.9L311.6 161.3L310.6 160.8L309.6 160.3L308.7 159.9L307.8 159.5L306.9 159.0L306.1 158.6L305.2 158.2L304.4 157.9L303.7 157.6L302.9 157.3L302.3 157.0L301.6 156.6L301.0 156.2L300.4 155.8L299.8 155.2L299.2 154.5L298.6 153.8L297.9 153.1L297.3 152.4L296.6 151.8L295.9 151.2L295.2 150.8L294.5 150.4L293.8 150.1L293.1 149.9L292.4 149.7L291.8 149.6L291.2 149.5L290.6 149.5L289.9 149.5L289.3 149.6L288.8 149.7L288.3 149.9L287.9 150.1L287.5 150.3L287.1 150.4L286.7 150.6L286.1 150.8L285.6 151.0L285.1 151.3L284.6 151.5L284.2 151.7L283.8 151.8L283.5 151.8L283.2 151.8L282.9 151.7L282.6 151.6L282.2 151.3L281.8 151.1L281.4 150.7L281.1 150.3L280.7 149.9L280.4 149.5L280.1 149.0L279.9 148.5L279.6 147.9L279.4 147.3L279.1 146.6L278.8 145.9L278.5 145.2L278.1 144.6L277.7 144.1L277.3 143.6L276.8 143.2L276.4 142.7L275.9 142.4L275.3 142.0L274.8 141.7L274.2 141.5L273.6 141.3L272.9 141.2L272.3 141.2L271.6 141.2L270.9 141.2L270.3 141.2L269.7 141.2L269.0 141.2Z" fill="#000" stroke="#000" stroke-width="0.3" stroke-linejoin="round"/>
<path d="M272.8 132.0L273.6 132.2L274.5 132.3L275.3 132.5L276.2 132.6L277.0 132.7L277.9 132.9L278.9 133.1L279.9 133.4L281.1 133.6L282.3 133.9L283.6 134.2L284.9 134.6L286.2 134.9L287.5 135.4L288.7 135.9L289.7 136.5L290.7 137.1L291.7 137.9L292.6 138.8L293.5 139.7L294.4 140.7L295.2 141.6L296.0 142.6L296.7 143.5L297.3 144.4L297.9 145.3L298.4 146.2L298.9 147.0L299.3 147.9L299.6 148.7L300.0 149.6L300.2 150.4L300.4 151.2L300.5 152.0L300.6 152.8L300.6 153.6L300.5 154.4L300.5 155.3L300.5 156.2L300.5 157.0L302.3 157.0L302.3 156.1L302.3 155.3L302.3 154.5L302.3 153.6L302.2 152.7L302.2 151.8L302.0 150.9L301.8 150.0L301.5 149.1L301.1 148.1L300.7 147.2L300.2 146.3L299.7 145.4L299.1 144.5L298.4 143.6L297.7 142.7L297.0 141.8L296.2 140.8L295.3 139.8L294.4 138.9L293.5 137.9L292.4 137.0L291.4 136.2L290.3 135.5L289.1 134.9L287.8 134.5L286.5 134.0L285.1 133.7L283.8 133.4L282.5 133.1L281.2 132.9L280.1 132.6L279.0 132.4L278.1 132.2L277.1 132.1L276.3 132.0L275.4 131.9L274.6 131.8L273.7 131.7L272.8 131.6Z" fill="#000" stroke="#000" stroke-width="0.3" stroke-linejoin="round"/>
<path d="M292.8 128.8L293.1 129.1L293.4 129.4L293.6 129.7L293.9 130.0L294.2 130.3L294.5 130.7L294.8 131.1L295.1 131.7L295.5 132.3L295.9 133.1L296.3 133.9L296.7 134.8L297.2 135.8L297.7 136.7L298.3 137.5L298.9 138.3L299.5 139.0L300.2 139.6L301.0 140.1L301.7 140.6L302.5 141.1L303.3 141.6L304.2 142.1L305.0 142.6L306.0 143.1L307.0 143.6L308.1 144.1L309.1 144.5L310.1 145.0L311.1 145.6L312.0 146.1L312.8 146.8L313.6 147.5L314.3 148.2L315.0 149.0L315.6 149.9L316.2 150.8L316.7 151.7L317.2 152.6L317.5 153.5L317.9 154.5L318.1 155.6L318.3 156.7L318.5 157.8L318.6 158.9L318.7 160.1L318.7 161.2L318.8 162.4L318.8 163.4L318.7 164.5L318.7 165.5L318.6 166.6L318.4 167.6L318.3 168.7L318.2 169.8L318.1 170.9L320.7 171.1L320.8 170.0L320.8 169.0L320.9 167.9L321.0 166.8L321.0 165.7L321.1 164.5L321.1 163.4L321.0 162.2L320.9 161.1L320.8 159.9L320.7 158.7L320.5 157.5L320.3 156.3L320.0 155.1L319.7 154.0L319.3 152.9L318.8 151.8L318.2 150.8L317.6 149.8L316.9 148.9L316.2 148.0L315.4 147.2L314.6 146.4L313.8 145.6L312.8 145.0L311.8 144.4L310.7 143.9L309.6 143.4L308.5 143.0L307.5 142.5L306.5 142.1L305.6 141.6L304.7 141.1L303.8 140.7L303.0 140.2L302.2 139.8L301.5 139.3L300.8 138.8L300.1 138.3L299.5 137.7L298.9 137.0L298.4 136.2L297.9 135.4L297.4 134.5L296.9 133.6L296.5 132.8L296.1 132.0L295.7 131.3L295.3 130.8L294.9 130.3L294.6 130.0L294.3 129.6L294.0 129.3L293.8 129.1L293.5 128.8L293.2 128.4Z" fill="#000" stroke="#000" stroke-width="0.3" stroke-linejoin="round"/>
<path d="M257.4 175.3L258.2 175.7L259.0 176.2L259.8 176.6L260.5 177.1L261.3 177.5L262.1 178.0L262.9 178.5L263.7 178.9L264.6 179.5L265.5 180.0L266.4 180.6L267.3 181.2L268.2 181.8L269.2 182.3L270.2 182.9L271.2 183.4L272.3 183.8L273.4 184.2L274.6 184.6L275.7 184.9L276.8 185.2L277.9 185.5L278.8 185.8L279.7 186.1L280.5 186.3L281.2 186.6L281.9 186.7L282.4 186.9L282.9 187.1L283.4 187.3L283.9 187.6L284.4 188.0L284.9 188.5L285.5 189.1L286.1 189.8L286.7 190.5L287.3 191.4L287.9 192.2L288.5 193.1L289.1 193.9L289.7 194.7L290.4 195.6L291.0 196.6L291.6 197.5L292.3 198.5L293.0 199.4L293.7 200.2L294.4 200.9L295.0 201.5L295.6 202.0L296.2 202.4L296.9 202.7L297.5 203.0L298.3 203.2L299.1 203.4L300.0 203.6L301.1 203.7L302.4 203.8L303.7 203.9L305.1 203.9L306.4 203.9L307.7 204.0L309.0 204.1L310.0 204.2L311.0 204.5L312.0 204.8L313.0 205.1L313.9 205.5L314.8 205.9L315.6 206.3L316.5 206.8L317.2 207.2L317.9 207.7L318.6 208.2L319.2 208.8L319.8 209.4L320.5 210.1L321.1 210.7L321.8 211.4L322.5 212.1L324.5 209.9L323.9 209.3L323.2 208.7L322.6 208.0L321.9 207.3L321.2 206.7L320.5 206.0L319.6 205.4L318.8 204.8L317.9 204.3L316.9 203.8L316.0 203.3L315.0 202.9L313.9 202.5L312.9 202.1L311.7 201.8L310.6 201.6L309.3 201.4L307.9 201.3L306.5 201.2L305.1 201.2L303.7 201.2L302.5 201.2L301.4 201.1L300.4 201.0L299.6 200.9L298.9 200.7L298.4 200.6L297.9 200.4L297.5 200.2L297.1 199.9L296.6 199.5L296.0 199.1L295.5 198.5L294.9 197.8L294.2 197.0L293.6 196.2L292.9 195.2L292.2 194.3L291.6 193.4L290.9 192.5L290.2 191.7L289.6 190.9L289.0 190.1L288.3 189.3L287.7 188.5L287.0 187.7L286.3 187.0L285.6 186.4L284.9 185.9L284.3 185.6L283.6 185.3L283.0 185.1L282.4 184.9L281.7 184.7L281.1 184.5L280.3 184.3L279.4 184.0L278.3 183.8L277.2 183.5L276.1 183.3L275.0 183.0L273.9 182.7L272.8 182.4L271.8 182.0L270.8 181.6L269.8 181.2L268.9 180.7L267.9 180.1L267.0 179.6L266.1 179.1L265.2 178.5L264.3 178.1L263.4 177.6L262.5 177.2L261.7 176.7L260.9 176.3L260.1 175.9L259.4 175.5L258.6 175.1L257.8 174.7Z" fill="#000" stroke="#000" stroke-width="0.3" stroke-linejoin="round"/>
<path d="M263.9 164.0L264.6 164.4L265.4 164.8L266.2 165.2L267.0 165.6L267.7 166.1L268.5 166.5L269.2 166.9L269.8 167.3L270.4 167.7L271.0 168.1L271.6 168.6L272.1 169.0L272.7 169.5L273.2 169.9L273.7 170.4L274.2 170.8L274.8 171.3L275.3 171.7L275.8 172.1L276.3 172.5L276.8 172.9L277.3 173.4L277.7 173.8L278.1 174.3L278.5 174.8L278.8 175.4L279.1 175.9L279.4 176.5L279.6 177.2L279.9 177.8L280.2 178.5L280.5 179.2L280.8 180.0L281.0 180.7L281.3 181.5L281.6 182.4L281.9 183.2L282.2 184.1L282.5 184.9L282.8 185.7L284.0 185.3L283.7 184.5L283.4 183.6L283.1 182.8L282.8 181.9L282.5 181.1L282.2 180.3L281.9 179.5L281.5 178.8L281.2 178.1L280.9 177.4L280.6 176.7L280.3 176.1L280.0 175.5L279.7 174.9L279.3 174.3L278.9 173.7L278.4 173.2L278.0 172.7L277.4 172.2L276.9 171.8L276.4 171.4L275.8 171.0L275.3 170.6L274.8 170.2L274.2 169.7L273.7 169.3L273.2 168.9L272.6 168.4L272.0 168.0L271.5 167.6L270.8 167.1L270.2 166.7L269.5 166.3L268.8 165.9L268.0 165.5L267.2 165.1L266.4 164.7L265.7 164.4L264.9 164.0L264.1 163.6Z" fill="#000" stroke="#000" stroke-width="0.3" stroke-linejoin="round"/>
<path d="M292.7 181.6L293.2 181.5L293.7 181.4L294.2 181.3L294.7 181.1L295.2 181.0L295.6 180.9L296.1 180.9L296.6 180.9L297.0 180.9L297.5 180.8L297.9 180.9L298.3 180.9L298.8 181.0L299.2 181.1L299.6 181.2L300.0 181.5L300.5 181.8L301.1 182.3L301.7 182.8L302.3 183.3L302.9 183.9L303.5 184.5L304.0 185.1L304.5 185.8L304.9 186.5L305.3 187.2L305.6 188.1L306.0 188.9L306.3 189.8L306.6 190.8L306.9 191.7L307.2 192.6L307.5 193.4L307.7 194.3L307.9 195.2L308.1 196.1L308.3 197.0L308.6 198.0L309.0 198.9L309.4 199.9L309.9 200.8L310.5 201.7L311.1 202.5L311.8 203.3L312.5 204.0L313.1 204.8L313.7 205.5L314.3 206.3L316.5 204.5L315.8 203.8L315.1 203.0L314.4 202.3L313.8 201.5L313.1 200.8L312.6 200.1L312.0 199.4L311.6 198.7L311.2 198.0L310.9 197.2L310.7 196.4L310.4 195.5L310.2 194.6L310.0 193.7L309.7 192.8L309.4 191.8L309.0 190.9L308.7 190.0L308.3 189.1L308.0 188.1L307.6 187.2L307.1 186.3L306.7 185.4L306.1 184.6L305.6 183.9L304.9 183.1L304.2 182.5L303.5 181.9L302.8 181.3L302.1 180.9L301.4 180.4L300.8 180.1L300.2 179.8L299.6 179.7L299.0 179.6L298.4 179.5L297.9 179.6L297.4 179.6L296.9 179.7L296.4 179.7L295.9 179.8L295.4 179.9L294.9 180.1L294.4 180.3L293.9 180.5L293.5 180.6L293.0 180.8L292.5 181.0Z" fill="#000" stroke="#000" stroke-width="0.3" stroke-linejoin="round"/>
<path d="M257.5 229.7L258.4 230.0L259.4 230.3L260.3 230.6L261.2 231.0L262.2 231.3L263.1 231.5L264.0 231.8L264.9 232.0L265.7 232.2L266.5 232.4L267.3 232.5L268.1 232.6L268.9 232.7L269.8 232.8L270.7 232.7L271.6 232.7L272.7 232.4L273.8 232.1L274.9 231.7L276.1 231.3L277.2 230.9L278.3 230.5L279.3 230.2L280.1 230.1L280.9 230.0L281.7 230.0L282.3 230.0L282.9 230.1L283.5 230.3L284.1 230.5L284.8 230.8L285.5 231.1L286.3 231.6L287.1 232.3L287.9 233.0L288.8 233.9L289.7 234.7L290.6 235.6L291.5 236.4L292.5 237.2L293.3 237.8L294.2 238.5L295.1 239.1L296.0 239.7L296.9 240.3L297.9 240.8L298.9 241.3L300.0 241.6L301.1 241.7L302.2 241.8L303.3 241.7L304.4 241.6L305.5 241.4L306.6 241.1L307.6 240.8L308.7 240.5L309.8 240.1L310.9 239.5L312.0 238.9L313.1 238.3L314.1 237.7L315.0 237.2L316.0 236.7L316.9 236.3L317.9 236.0L318.8 235.7L319.7 235.4L320.7 235.2L321.6 235.0L322.5 234.9L323.4 234.9L324.3 234.9L325.2 235.0L326.2 235.3L327.3 235.6L328.4 235.9L329.5 236.3L330.7 236.8L331.9 237.2L333.0 237.6L334.0 234.4L332.9 234.1L331.7 233.7L330.6 233.3L329.4 232.9L328.2 232.6L327.0 232.3L325.7 232.0L324.5 231.9L323.3 231.9L322.2 232.0L321.1 232.1L320.0 232.3L319.0 232.6L317.9 233.0L316.9 233.3L315.9 233.7L314.8 234.2L313.7 234.8L312.7 235.4L311.7 236.0L310.7 236.7L309.7 237.2L308.8 237.7L307.9 238.1L306.9 238.4L305.9 238.7L305.0 239.0L304.0 239.2L303.1 239.3L302.1 239.4L301.3 239.3L300.4 239.2L299.6 239.0L298.8 238.7L298.0 238.3L297.2 237.8L296.4 237.3L295.5 236.7L294.6 236.1L293.7 235.4L292.9 234.8L292.0 234.0L291.1 233.2L290.2 232.4L289.3 231.5L288.3 230.7L287.4 230.0L286.5 229.5L285.6 229.0L284.8 228.7L284.0 228.5L283.2 228.3L282.5 228.2L281.6 228.2L280.8 228.2L279.9 228.3L278.8 228.6L277.7 228.9L276.6 229.4L275.5 229.8L274.4 230.3L273.3 230.8L272.3 231.1L271.4 231.3L270.5 231.5L269.7 231.5L269.0 231.5L268.2 231.5L267.5 231.4L266.7 231.3L265.9 231.1L265.1 231.0L264.2 230.8L263.3 230.6L262.4 230.4L261.5 230.1L260.5 229.9L259.6 229.6L258.6 229.3L257.7 229.1Z" fill="#000" stroke="#000" stroke-width="0.3" stroke-linejoin="round"/>
<path d="M283.7 210.2L284.1 210.7L284.5 211.1L284.8 211.6L285.2 212.1L285.5 212.5L285.9 213.0L286.3 213.4L286.6 213.9L287.0 214.2L287.2 214.6L287.5 214.9L287.8 215.2L288.2 215.6L288.6 215.9L289.2 216.3L289.8 216.7L290.6 217.1L291.5 217.6L292.5 218.2L293.6 218.7L294.7 219.2L295.9 219.6L297.0 219.9L298.2 220.1L299.3 220.0L300.4 219.7L301.5 219.3L302.5 218.8L303.4 218.3L304.2 217.9L304.9 217.6L305.5 217.4L306.2 217.4L306.8 217.3L307.4 217.3L307.9 217.4L308.3 217.5L308.7 217.7L309.1 217.9L309.5 218.1L309.8 218.4L310.1 218.8L310.4 219.4L310.7 220.1L311.1 220.8L311.5 221.7L312.0 222.6L312.7 223.5L313.3 224.4L314.1 225.3L314.9 226.2L315.7 227.2L316.6 228.2L317.5 229.2L318.5 230.1L319.6 231.0L320.6 231.8L321.8 232.5L322.9 233.2L324.1 233.9L325.2 234.5L326.4 235.1L327.5 235.7L328.6 236.3L330.4 232.7L329.3 232.1L328.1 231.6L326.9 231.0L325.8 230.5L324.7 230.0L323.6 229.4L322.6 228.8L321.6 228.2L320.7 227.5L319.8 226.7L318.9 225.9L318.0 225.1L317.2 224.2L316.4 223.3L315.6 222.5L314.9 221.7L314.4 221.0L313.9 220.3L313.5 219.6L313.1 218.9L312.8 218.1L312.3 217.4L311.8 216.7L311.1 216.1L310.4 215.6L309.7 215.3L308.9 215.1L308.2 215.0L307.4 214.9L306.7 214.9L305.9 215.0L305.1 215.2L304.1 215.4L303.2 215.9L302.3 216.4L301.4 216.9L300.6 217.4L299.7 217.8L299.0 218.0L298.2 218.1L297.4 218.1L296.4 217.9L295.3 217.6L294.2 217.2L293.1 216.7L292.1 216.3L291.2 215.9L290.4 215.5L289.8 215.2L289.3 214.9L288.9 214.7L288.6 214.4L288.3 214.1L288.1 213.8L287.7 213.5L287.4 213.1L287.0 212.8L286.6 212.4L286.2 212.0L285.8 211.5L285.4 211.1L285.0 210.7L284.6 210.2L284.3 209.8Z" fill="#000" stroke="#000" stroke-width="0.3" stroke-linejoin="round"/>
<path d="M310.9 209.1L310.9 210.0L311.0 210.8L311.0 211.7L311.0 212.6L311.0 213.5L311.1 214.5L311.2 215.4L311.3 216.4L311.5 217.3L311.7 218.1L312.0 219.0L312.3 219.9L312.6 220.8L313.0 221.7L313.4 222.6L313.9 223.5L314.4 224.4L315.1 225.3L315.7 226.2L316.4 227.2L317.2 228.1L318.0 228.9L318.8 229.7L319.7 230.5L320.6 231.2L321.5 231.9L322.5 232.5L323.5 233.1L324.4 233.7L325.4 234.2L326.2 234.7L327.1 235.1L327.9 235.6L328.7 236.0L329.5 236.4L330.3 236.7L331.0 237.1L331.8 237.4L332.5 237.7L333.2 238.1L334.8 234.9L334.0 234.5L333.3 234.2L332.6 233.8L331.8 233.5L331.1 233.1L330.4 232.7L329.7 232.3L328.9 231.9L328.1 231.4L327.2 230.9L326.3 230.4L325.5 229.8L324.6 229.3L323.8 228.7L323.0 228.1L322.3 227.5L321.6 226.8L320.9 226.1L320.2 225.4L319.5 224.6L318.8 223.8L318.2 223.0L317.6 222.3L317.1 221.5L316.7 220.8L316.3 220.1L315.9 219.4L315.6 218.7L315.4 217.9L315.1 217.2L314.9 216.4L314.7 215.6L314.5 214.9L314.4 214.1L314.3 213.3L314.2 212.4L314.1 211.6L314.1 210.7L314.0 209.8L313.9 208.9Z" fill="#000" stroke="#000" stroke-width="0.3" stroke-linejoin="round"/>
<path d="M245.0 256.6L245.6 257.0L246.2 257.3L246.8 257.7L247.4 258.1L248.0 258.5L248.6 258.9L249.2 259.3L249.9 259.7L250.7 260.1L251.4 260.6L252.2 261.1L253.0 261.6L253.8 262.1L254.7 262.5L255.5 262.8L256.4 263.0L257.2 263.1L258.1 263.1L258.9 263.0L259.7 262.8L260.6 262.6L261.4 262.4L262.3 262.1L263.1 261.8L263.9 261.4L264.8 261.0L265.6 260.6L266.5 260.2L267.3 259.6L268.1 259.1L269.0 258.4L269.8 257.8L270.5 257.0L271.3 256.0L272.0 255.1L272.7 254.0L273.4 253.0L274.1 252.0L274.8 251.1L275.4 250.3L276.1 249.6L276.7 248.9L277.3 248.3L277.9 247.7L278.5 247.2L279.1 246.7L279.8 246.3L280.4 246.0L281.1 245.7L281.8 245.5L282.5 245.3L283.2 245.2L283.9 245.1L284.6 245.1L285.3 245.2L286.0 245.4L286.6 245.6L287.3 246.0L288.0 246.4L288.7 247.0L289.4 247.6L290.2 248.2L290.9 248.8L291.7 249.3L292.4 249.9L293.1 250.4L293.9 251.0L294.6 251.6L295.4 252.2L296.3 252.7L297.2 253.1L298.1 253.4L299.1 253.5L300.0 253.5L301.0 253.4L302.0 253.3L303.0 253.1L303.9 252.8L304.9 252.5L305.8 252.1L306.8 251.6L307.7 251.1L308.6 250.5L309.5 249.9L310.4 249.3L311.3 248.6L312.1 248.0L313.1 247.4L314.0 246.8L315.0 246.2L316.0 245.5L317.1 244.9L318.1 244.3L319.1 243.6L320.2 243.1L321.1 242.6L322.1 242.1L323.0 241.6L324.0 241.1L324.9 240.7L325.8 240.3L326.7 239.9L327.6 239.6L328.4 239.4L329.2 239.1L330.0 239.0L330.7 238.9L331.5 238.8L332.3 238.7L333.0 238.7L333.9 238.6L334.7 238.5L334.3 235.5L333.5 235.6L332.7 235.7L332.0 235.8L331.1 235.9L330.3 236.0L329.4 236.2L328.5 236.4L327.6 236.6L326.6 237.0L325.7 237.3L324.7 237.8L323.8 238.2L322.8 238.7L321.8 239.2L320.9 239.7L319.9 240.2L318.9 240.8L317.8 241.4L316.8 242.1L315.8 242.8L314.7 243.4L313.7 244.1L312.7 244.8L311.7 245.4L310.8 246.1L309.9 246.7L309.0 247.4L308.2 248.1L307.3 248.7L306.5 249.2L305.8 249.7L305.0 250.1L304.1 250.5L303.3 250.8L302.4 251.1L301.6 251.3L300.8 251.4L300.0 251.5L299.2 251.5L298.5 251.4L297.8 251.3L297.2 251.0L296.5 250.6L295.7 250.1L295.0 249.5L294.3 249.0L293.5 248.4L292.7 247.9L292.0 247.4L291.2 246.8L290.5 246.2L289.7 245.6L288.9 245.1L288.1 244.6L287.3 244.1L286.4 243.8L285.5 243.7L284.7 243.6L283.8 243.6L283.0 243.7L282.2 243.9L281.3 244.2L280.6 244.4L279.8 244.8L279.1 245.2L278.4 245.7L277.7 246.2L277.1 246.8L276.5 247.5L275.9 248.2L275.2 248.9L274.6 249.7L273.9 250.5L273.3 251.5L272.6 252.5L272.0 253.5L271.3 254.6L270.6 255.6L269.9 256.5L269.2 257.2L268.5 257.9L267.8 258.5L267.0 259.1L266.2 259.6L265.3 260.1L264.5 260.5L263.7 260.9L262.9 261.2L262.1 261.6L261.3 261.9L260.5 262.1L259.6 262.4L258.8 262.5L258.0 262.6L257.2 262.7L256.4 262.6L255.6 262.4L254.8 262.1L254.0 261.8L253.2 261.3L252.4 260.9L251.6 260.4L250.8 259.9L250.1 259.5L249.4 259.1L248.7 258.7L248.1 258.3L247.5 258.0L246.9 257.6L246.3 257.2L245.7 256.8L245.0 256.4Z" fill="#000" stroke="#000" stroke-width="0.3" stroke-linejoin="round"/>
<path d="M264.8 261.2L263.3 262.2L261.7 263.3L260.2 264.4L258.6 265.4L257.2 266.4L255.8 267.3L254.5 268.1L253.3 268.8L252.2 269.4L251.1 270.0L250.0 270.5L249.0 271.0L248.0 271.4L247.2 271.8L246.3 272.2L245.5 272.4L244.6 272.6L243.6 272.6L242.5 272.5L241.3 272.1L240.1 271.7L238.8 271.3L237.5 270.8L236.0 270.3L234.4 269.8L232.7 269.4L230.9 268.8L229.1 268.3L227.3 267.8L225.5 267.3" fill="none" stroke="#000" stroke-width="0.7" stroke-linejoin="round" />
<path d="M310.4 249.0L310.3 249.8L310.2 250.7L310.1 251.5L310.0 252.3L309.9 253.2L309.8 254.0L309.7 254.8L309.6 255.7L309.5 256.6L309.4 257.4L309.2 258.2L309.0 259.0L308.7 259.8L308.4 260.5L308.1 261.2L307.7 261.9L307.2 262.5L306.6 263.0L305.9 263.4L305.0 263.6L304.0 263.8L303.0 264.0L302.0 264.1L301.0 264.2L300.1 264.3L299.1 264.3L298.2 264.4L297.2 264.4L296.3 264.4L295.3 264.4" fill="none" stroke="#444" stroke-width="0.7" stroke-linejoin="round" />
<path d="M325.6 172.0L326.0 172.7L326.4 173.3L326.9 173.9L327.3 174.6L327.6 175.3L328.0 176.0L328.3 176.8L328.7 177.6L329.0 178.5L329.3 179.4L329.5 180.2L329.6 181.0L329.5 181.7L329.3 182.4L329.0 183.1L328.7 183.7L328.4 184.3L328.2 185.0L328.0 185.7L327.8 186.3L327.7 187.0L327.6 187.7L327.5 188.3L327.6 189.0L327.8 189.7L328.1 190.3L328.5 191.0L328.9 191.7L329.3 192.3L329.6 193.0L329.8 193.7L330.1 194.3L330.3 194.9L330.5 195.6L330.5 196.3L330.4 197.0L330.1 197.8L329.7 198.6L329.2 199.5L328.6 200.3L328.0 201.2L327.5 202.0L327.0 202.8L326.5 203.5L326.1 204.3L325.6 205.0L325.1 205.8L324.6 206.5" fill="none" stroke="#000" stroke-width="0.7" stroke-linejoin="round" />
<path d="M333.2 168.0 l1.3 4.0M335.2 174.4 l1.0 4.0M336.8 180.8 l0.8 4.0M338.0 187.2 l0.5 4.0M338.7 193.6 l0.3 4.0M339.1 200.0 l0.0 4.0M338.8 206.4 l-0.2 4.0M338.0 212.8 l-0.5 4.0M336.8 219.2 l-0.7 4.0M335.2 225.6 l-1.0 4.0M333.1 232.0 l-1.2 4.0M331.3 171.2 l1.1 4.0M333.1 177.6 l0.9 4.0M334.4 184.0 l0.6 4.0M335.4 190.4 l0.4 4.0M336.0 196.8 l0.1 4.0M336.1 203.2 l-0.1 4.0M335.5 209.6 l-0.3 4.0M334.5 216.0 l-0.6 4.0M333.0 222.4 l-0.8 4.0M331.2 228.8 l-1.1 4.0M328.9 235.2 l-1.3 4.0M327.2 168.0 l1.3 4.0M329.2 174.4 l1.0 4.0M330.8 180.8 l0.8 4.0M332.0 187.2 l0.5 4.0M332.7 193.6 l0.3 4.0M333.1 200.0 l0.0 4.0M332.8 206.4 l-0.2 4.0M332.0 212.8 l-0.5 4.0M330.8 219.2 l-0.7 4.0M329.2 225.6 l-1.0 4.0M327.1 232.0 l-1.2 4.0M325.3 171.2 l1.1 4.0M327.1 177.6 l0.9 4.0M328.4 184.0 l0.6 4.0M329.4 190.4 l0.4 4.0M330.0 196.8 l0.1 4.0M328.5 216.0 l-0.6 4.0M327.0 222.4 l-0.8 4.0M325.2 228.8 l-1.1 4.0M322.9 235.2 l-1.3 4.0" fill="none" stroke="#000" stroke-width="0.75"/>
</g>
</defs>
<rect width="990" height="400" fill="#fff"/>
<use href="#eye"/>
<use href="#eye" transform="translate(475 -10)"/>
<path d="M25 181.7L334.6 207.8L334.6 208.7L25 211.8Z" fill="url(#g1)"/>
<path d="M502 171.8L800.4 209.2L800.4 210.1L502 203.0Z" fill="url(#g2)"/>
<path d="M502 171.6L810 198.0L810 198.9L502 201.7Z" fill="url(#g2)"/>
<path d="M545 201.6L724 200.0" stroke="#a9c6e6" stroke-width="0.7" fill="none"/>
<text x="41.3" y="205.6" font-size="18.4" fill="#fff" font-weight="bold" textLength="49" lengthAdjust="spacingAndGlyphs" stroke="#fff" stroke-width="0.7" stroke-linejoin="round">LIGHT</text>
<text x="516.5" y="196.0" font-size="18.4" fill="#fff" font-weight="bold" textLength="49" lengthAdjust="spacingAndGlyphs" stroke="#fff" stroke-width="0.7" stroke-linejoin="round">LIGHT</text>
<path d="M141 115.5L170 115.5L188.6 186.7" fill="none" stroke="#a49a98" stroke-width="1.8"/><circle cx="188.6" cy="186.7" r="4.9" fill="#a49a98"/>
<path d="M368.7 115.5L353 115.5L341.6 208.8" fill="none" stroke="#a49a98" stroke-width="1.8"/><circle cx="341.6" cy="208.8" r="4.9" fill="#a49a98"/>
<path d="M146.4 288.5L157 288.5L162.9 238.3" fill="none" stroke="#a49a98" stroke-width="1.8"/><circle cx="162.9" cy="238.3" r="4.9" fill="#a49a98"/>
<path d="M621 278.6L632 278.6L637.9 228.6" fill="none" stroke="#a49a98" stroke-width="1.8"/><circle cx="637.9" cy="228.6" r="4.9" fill="#a49a98"/>
<path d="M850.4 278.6L825.7 278.6L818 199" fill="none" stroke="#a49a98" stroke-width="1.8"/><circle cx="818" cy="199" r="4.9" fill="#a49a98"/>
<path d="M825.7 278.6L804.4 210" fill="none" stroke="#a49a98" stroke-width="1.8"/><circle cx="804.4" cy="210" r="4.9" fill="#a49a98"/>
<text x="172.2" y="50.6" font-size="27" fill="#231f20" font-weight="normal" textLength="149" lengthAdjust="spacingAndGlyphs" stroke="#fff" stroke-width="0.18">HEALTHY EYE</text>
<text x="641.2" y="50.6" font-size="27" fill="#231f20" font-weight="normal" textLength="161.4" lengthAdjust="spacingAndGlyphs" stroke="#fff" stroke-width="0.18">ASTIGMATISM</text>
<text x="71.8" y="123.6" font-size="23" fill="#4a88c9" font-weight="normal" textLength="48.6" lengthAdjust="spacingAndGlyphs" stroke="#fff" stroke-width="0.12">LENS</text>
<text x="388.7" y="122.6" font-size="23" fill="#4a88c9" font-weight="normal" textLength="125.6" lengthAdjust="spacingAndGlyphs" stroke="#fff" stroke-width="0.12">OPTIC NERVE</text>
<text x="39.9" y="295.6" font-size="23" fill="#4a88c9" font-weight="normal" textLength="86" lengthAdjust="spacingAndGlyphs" stroke="#fff" stroke-width="0.12">CORNEA</text>
<text x="487.8" y="285.6" font-size="23" fill="#4a88c9" font-weight="normal" textLength="121" lengthAdjust="spacingAndGlyphs" stroke="#fff" stroke-width="0.12">ASTIGMATIC</text>
<text x="506.4" y="307.6" font-size="23" fill="#4a88c9" font-weight="normal" textLength="85" lengthAdjust="spacingAndGlyphs" stroke="#fff" stroke-width="0.12">CORNEA</text>
<text x="862.4" y="285.6" font-size="23" fill="#4a88c9" font-weight="normal" textLength="85.8" lengthAdjust="spacingAndGlyphs" stroke="#fff" stroke-width="0.12">MULTIPLE</text>
<text x="833.8" y="307.6" font-size="23" fill="#4a88c9" font-weight="normal" textLength="143.2" lengthAdjust="spacingAndGlyphs" stroke="#fff" stroke-width="0.12">FOCAL POINTS</text>
</svg>
</body>
</html>
